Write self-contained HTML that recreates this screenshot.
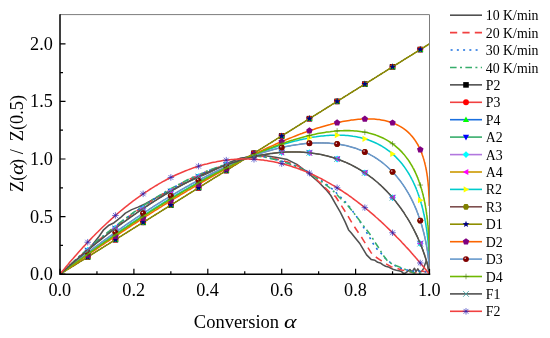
<!DOCTYPE html>
<html><head><meta charset="utf-8"><title>Z master plot</title>
<style>html,body{margin:0;padding:0;background:#fff}svg{display:block}</style></head>
<body>
<svg width="550" height="338" viewBox="0 0 550 338" font-family="'Liberation Serif', serif" fill="#000">
<rect width="550" height="338" fill="#fff"/>
<defs><clipPath id="c"><rect x="60.0" y="15.0" width="369.5" height="259.2"/></clipPath></defs>
<g clip-path="url(#c)" fill="none" stroke-width="1.55" stroke-linejoin="round">
<path d="M60.0 274.2 L70.0 266.0 L80.0 258.0 L87.7 250.4 L94.0 242.8 L99.0 236.5 L103.3 230.2 L109.0 225.2 L114.1 222.7 L120.4 217.7 L125.4 213.1 L131.7 209.6 L138.0 207.1 L145.5 203.8 L150.0 201.3 L156.0 197.9 L166.6 192.5 L177.3 187.2 L187.9 181.9 L198.5 177.4 L209.2 172.6 L219.8 167.3 L230.5 161.9 L241.1 157.9 L244.8 157.6 L254.0 155.0 L263.7 155.6 L275.5 157.2 L287.4 159.6 L296.9 164.4 L306.4 171.5 L309.5 174.2 L319.0 182.5 L326.0 189.6 L330.8 195.5 L335.5 203.8 L340.3 212.1 L345.0 221.6 L348.6 229.9 L351.1 232.7 L355.5 238.3 L360.0 243.8 L363.3 249.4 L366.6 254.9 L371.1 259.4 L375.0 260.3 L377.7 262.3 L380.3 262.9 L383.0 264.9 L385.6 266.3 L388.3 266.9 L391.0 268.3 L393.6 269.6 L396.3 270.3 L398.9 270.7 L401.6 271.6 L403.6 273.6 L405.6 272.9 L408.3 270.9 L409.9 269.6 L411.6 271.6 L413.0 270.5 L414.5 268.3 L416.0 271.6 L417.8 268.9 L419.6 272.0 L421.6 271.6 L423.6 268.3 L426.2 260.9 L427.5 263.6 L428.9 272.9" stroke="#515151"/>
<path d="M60.0 274.2 L78.5 257.4 L97.0 241.5 L115.4 226.6 L133.9 212.9 L152.4 200.4 L170.8 189.2 L189.3 179.4 L207.8 171.1 L226.3 164.3 L244.8 159.0 L254.0 155.6 L263.7 156.4 L275.0 158.6 L287.0 161.8 L297.0 165.5 L308.7 172.5 L320.6 183.3 L330.0 192.5 L335.5 196.5 L340.0 203.5 L346.7 213.9 L353.3 225.0 L362.2 238.3 L371.1 252.7 L375.5 256.8 L380.0 259.8 L385.6 263.6 L391.0 266.7 L396.3 268.0 L401.6 269.9 L406.9 270.9 L412.2 272.6 L418.9 272.9 L422.2 270.9 L426.0 272.0" stroke="#F14040" stroke-dasharray="7.2 5.2"/>
<path d="M60.0 274.2 L78.5 257.3 L97.0 241.3 L115.4 226.3 L133.9 212.6 L152.4 200.1 L170.8 188.9 L189.3 179.2 L207.8 170.9 L226.3 164.2 L244.8 159.0 L254.0 155.8 L263.7 156.7 L275.0 159.2 L287.4 162.8 L297.0 166.3 L308.7 172.0 L320.6 180.0 L330.0 187.0 L335.5 192.0 L339.5 196.0 L347.4 204.0 L356.9 217.0 L364.0 228.0 L371.1 240.0 L375.0 247.0 L380.3 252.3 L386.3 259.6 L393.6 264.9 L400.0 268.0 L408.3 270.3 L415.0 271.5 L422.9 270.9 L427.0 272.0" stroke="#1A6FDF" stroke-dasharray="2 4.3"/>
<path d="M60.0 274.2 L78.5 257.1 L97.0 241.1 L115.4 226.0 L133.9 212.2 L152.4 199.7 L170.8 188.6 L189.3 178.9 L207.8 170.7 L226.3 164.1 L244.8 159.0 L254.0 155.8 L263.7 156.9 L275.0 159.5 L287.4 163.2 L297.0 166.8 L308.7 172.5 L320.6 181.0 L330.0 188.0 L335.5 193.2 L339.5 197.5 L347.4 205.0 L356.9 216.9 L364.0 226.4 L371.1 235.8 L375.0 242.3 L379.0 248.3 L383.0 255.0 L387.0 260.3 L392.3 264.3 L397.6 266.3 L402.9 268.3 L408.3 270.7 L413.6 272.9 L418.9 273.6 L424.0 272.0" stroke="#37AD6B" stroke-dasharray="6.6 3.4 2 3.4"/>
<polyline points="60.7,273.7 62.5,272.6 64.3,271.5 66.0,270.4 67.8,269.3 69.5,268.3 71.3,267.2 73.1,266.1 74.8,265.0 76.6,263.9 78.3,262.8 80.1,261.7 81.9,260.6 83.6,259.5 85.4,258.4 87.1,257.3 88.9,256.2 90.7,255.1 92.4,254.0 94.2,252.9 95.9,251.8 97.7,250.7 99.5,249.6 101.2,248.5 103.0,247.4 104.7,246.3 106.5,245.2 108.3,244.1 110.0,243.0 111.8,241.9 113.5,240.8 115.3,239.7 117.1,238.6 118.8,237.5 120.6,236.4 122.3,235.3 124.1,234.2 125.9,233.1 127.6,232.0 129.4,230.9 131.1,229.8 132.9,228.7 134.7,227.6 136.4,226.5 138.2,225.4 139.9,224.3 141.7,223.3 143.5,222.2 145.2,221.1 147.0,220.0 148.8,218.9 150.5,217.8 152.3,216.7 154.0,215.6 155.8,214.5 157.6,213.4 159.3,212.3 161.1,211.2 162.8,210.1 164.6,209.0 166.4,207.9 168.1,206.8 169.9,205.7 171.6,204.6 173.4,203.5 175.2,202.4 176.9,201.3 178.7,200.2 180.4,199.1 182.2,198.0 184.0,196.9 185.7,195.8 187.5,194.7 189.2,193.6 191.0,192.5 192.8,191.4 194.5,190.3 196.3,189.2 198.0,188.1 199.8,187.0 201.6,185.9 203.3,184.8 205.1,183.7 206.8,182.6 208.6,181.5 210.4,180.4 212.1,179.3 213.9,178.2 215.6,177.2 217.4,176.1 219.2,175.0 220.9,173.9 222.7,172.8 224.4,171.7 226.2,170.6 228.0,169.5 229.7,168.4 231.5,167.3 233.2,166.2 235.0,165.1 236.8,164.0 238.5,162.9 240.3,161.8 242.0,160.7 243.8,159.6 245.6,158.5 247.3,157.4 249.1,156.3 250.8,155.2 252.6,154.1 254.4,153.0 256.1,151.9 257.9,150.8 259.6,149.7 261.4,148.6 263.2,147.5 264.9,146.4 266.7,145.3 268.4,144.2 270.2,143.1 272.0,142.0 273.7,140.9 275.5,139.8 277.2,138.7 279.0,137.6 280.8,136.5 282.5,135.4 284.3,134.3 286.0,133.2 287.8,132.2 289.6,131.1 291.3,130.0 293.1,128.9 294.8,127.8 296.6,126.7 298.4,125.6 300.1,124.5 301.9,123.4 303.7,122.3 305.4,121.2 307.2,120.1 308.9,119.0 310.7,117.9 312.5,116.8 314.2,115.7 316.0,114.6 317.7,113.5 319.5,112.4 321.3,111.3 323.0,110.2 324.8,109.1 326.5,108.0 328.3,106.9 330.1,105.8 331.8,104.7 333.6,103.6 335.3,102.5 337.1,101.4 338.9,100.3 340.6,99.2 342.4,98.1 344.1,97.0 345.9,95.9 347.7,94.8 349.4,93.7 351.2,92.6 352.9,91.5 354.7,90.4 356.5,89.3 358.2,88.2 360.0,87.1 361.7,86.1 363.5,85.0 365.3,83.9 367.0,82.8 368.8,81.7 370.5,80.6 372.3,79.5 374.1,78.4 375.8,77.3 377.6,76.2 379.3,75.1 381.1,74.0 382.9,72.9 384.6,71.8 386.4,70.7 388.1,69.6 389.9,68.5 391.7,67.4 393.4,66.3 395.2,65.2 396.9,64.1 398.7,63.0 400.5,61.9 402.2,60.8 404.0,59.7 405.7,58.6 407.5,57.5 409.3,56.4 411.0,55.3 411.0,55.3 411.1,55.2 411.3,55.2 411.4,55.1 411.5,55.0 411.6,54.9 411.8,54.9 411.9,54.8 412.0,54.7 412.1,54.6 412.3,54.6 412.4,54.5 412.5,54.4 412.6,54.3 412.7,54.2 412.9,54.2 413.0,54.1 413.1,54.0 413.2,53.9 413.4,53.9 413.5,53.8 413.6,53.7 413.7,53.6 413.8,53.6 414.0,53.5 414.1,53.4 414.2,53.3 414.3,53.3 414.5,53.2 414.6,53.1 414.7,53.0 414.8,52.9 415.0,52.9 415.1,52.8 415.2,52.7 415.3,52.6 415.4,52.6 415.6,52.5 415.7,52.4 415.8,52.3 415.9,52.3 416.1,52.2 416.2,52.1 416.3,52.0 416.4,52.0 416.5,51.9 416.7,51.8 416.8,51.7 416.9,51.6 417.0,51.6 417.2,51.5 417.3,51.4 417.4,51.3 417.5,51.3 417.7,51.2 417.8,51.1 417.9,51.0 418.0,51.0 418.1,50.9 418.3,50.8 418.4,50.7 418.5,50.7 418.6,50.6 418.8,50.5 418.9,50.4 419.0,50.3 419.1,50.3 419.2,50.2 419.4,50.1 419.5,50.0 419.6,50.0 419.7,49.9 419.9,49.8 420.0,49.7 420.1,49.7 420.2,49.6 420.4,49.5 420.5,49.4 420.6,49.3 420.7,49.3 420.8,49.2 421.0,49.1 421.1,49.0 421.2,49.0 421.3,48.9 421.5,48.8 421.6,48.7 421.7,48.7 421.8,48.6 422.0,48.5 422.1,48.4 422.2,48.4 422.3,48.3 422.4,48.2 422.6,48.1 422.7,48.0 422.8,48.0 422.9,47.9 423.1,47.8 423.2,47.7 423.3,47.7 423.4,47.6 423.5,47.5 423.7,47.4 423.8,47.4 423.9,47.3 424.0,47.2 424.2,47.1 424.3,47.1 424.4,47.0 424.5,46.9 424.7,46.8 424.8,46.7 424.9,46.7 425.0,46.6 425.1,46.5 425.3,46.4 425.4,46.4 425.5,46.3 425.6,46.2 425.8,46.1 425.9,46.1 426.0,46.0 426.1,45.9 426.2,45.8 426.4,45.8 426.5,45.7 426.6,45.6 426.7,45.5 426.9,45.4 427.0,45.4 427.1,45.3 427.2,45.2 427.4,45.1 427.5,45.1 427.6,45.0 427.7,44.9 427.8,44.8 428.0,44.8 428.1,44.7 428.2,44.6 428.3,44.5 428.5,44.5 428.6,44.4 428.7,44.3 428.8,44.2 428.9,44.1 429.1,44.1 429.2,44.0 429.3,43.9" stroke="#000000" stroke-width="1"/>
<g stroke="none"><rect x="84.92" y="254.13" width="5.58" height="5.58" fill="#000000"/><rect x="112.63" y="236.85" width="5.58" height="5.58" fill="#000000"/><rect x="140.35" y="219.57" width="5.58" height="5.58" fill="#000000"/><rect x="168.06" y="202.29" width="5.58" height="5.58" fill="#000000"/><rect x="195.77" y="185.01" width="5.58" height="5.58" fill="#000000"/><rect x="223.48" y="167.73" width="5.58" height="5.58" fill="#000000"/><rect x="251.20" y="150.45" width="5.58" height="5.58" fill="#000000"/><rect x="278.91" y="133.17" width="5.58" height="5.58" fill="#000000"/><rect x="306.62" y="115.89" width="5.58" height="5.58" fill="#000000"/><rect x="334.33" y="98.61" width="5.58" height="5.58" fill="#000000"/><rect x="362.05" y="81.33" width="5.58" height="5.58" fill="#000000"/><rect x="389.76" y="64.05" width="5.58" height="5.58" fill="#000000"/><rect x="417.47" y="46.77" width="5.58" height="5.58" fill="#000000"/></g>
<polyline points="60.7,273.7 62.5,272.6 64.3,271.5 66.0,270.4 67.8,269.3 69.5,268.3 71.3,267.2 73.1,266.1 74.8,265.0 76.6,263.9 78.3,262.8 80.1,261.7 81.9,260.6 83.6,259.5 85.4,258.4 87.1,257.3 88.9,256.2 90.7,255.1 92.4,254.0 94.2,252.9 95.9,251.8 97.7,250.7 99.5,249.6 101.2,248.5 103.0,247.4 104.7,246.3 106.5,245.2 108.3,244.1 110.0,243.0 111.8,241.9 113.5,240.8 115.3,239.7 117.1,238.6 118.8,237.5 120.6,236.4 122.3,235.3 124.1,234.2 125.9,233.1 127.6,232.0 129.4,230.9 131.1,229.8 132.9,228.7 134.7,227.6 136.4,226.5 138.2,225.4 139.9,224.3 141.7,223.3 143.5,222.2 145.2,221.1 147.0,220.0 148.8,218.9 150.5,217.8 152.3,216.7 154.0,215.6 155.8,214.5 157.6,213.4 159.3,212.3 161.1,211.2 162.8,210.1 164.6,209.0 166.4,207.9 168.1,206.8 169.9,205.7 171.6,204.6 173.4,203.5 175.2,202.4 176.9,201.3 178.7,200.2 180.4,199.1 182.2,198.0 184.0,196.9 185.7,195.8 187.5,194.7 189.2,193.6 191.0,192.5 192.8,191.4 194.5,190.3 196.3,189.2 198.0,188.1 199.8,187.0 201.6,185.9 203.3,184.8 205.1,183.7 206.8,182.6 208.6,181.5 210.4,180.4 212.1,179.3 213.9,178.2 215.6,177.2 217.4,176.1 219.2,175.0 220.9,173.9 222.7,172.8 224.4,171.7 226.2,170.6 228.0,169.5 229.7,168.4 231.5,167.3 233.2,166.2 235.0,165.1 236.8,164.0 238.5,162.9 240.3,161.8 242.0,160.7 243.8,159.6 245.6,158.5 247.3,157.4 249.1,156.3 250.8,155.2 252.6,154.1 254.4,153.0 256.1,151.9 257.9,150.8 259.6,149.7 261.4,148.6 263.2,147.5 264.9,146.4 266.7,145.3 268.4,144.2 270.2,143.1 272.0,142.0 273.7,140.9 275.5,139.8 277.2,138.7 279.0,137.6 280.8,136.5 282.5,135.4 284.3,134.3 286.0,133.2 287.8,132.2 289.6,131.1 291.3,130.0 293.1,128.9 294.8,127.8 296.6,126.7 298.4,125.6 300.1,124.5 301.9,123.4 303.7,122.3 305.4,121.2 307.2,120.1 308.9,119.0 310.7,117.9 312.5,116.8 314.2,115.7 316.0,114.6 317.7,113.5 319.5,112.4 321.3,111.3 323.0,110.2 324.8,109.1 326.5,108.0 328.3,106.9 330.1,105.8 331.8,104.7 333.6,103.6 335.3,102.5 337.1,101.4 338.9,100.3 340.6,99.2 342.4,98.1 344.1,97.0 345.9,95.9 347.7,94.8 349.4,93.7 351.2,92.6 352.9,91.5 354.7,90.4 356.5,89.3 358.2,88.2 360.0,87.1 361.7,86.1 363.5,85.0 365.3,83.9 367.0,82.8 368.8,81.7 370.5,80.6 372.3,79.5 374.1,78.4 375.8,77.3 377.6,76.2 379.3,75.1 381.1,74.0 382.9,72.9 384.6,71.8 386.4,70.7 388.1,69.6 389.9,68.5 391.7,67.4 393.4,66.3 395.2,65.2 396.9,64.1 398.7,63.0 400.5,61.9 402.2,60.8 404.0,59.7 405.7,58.6 407.5,57.5 409.3,56.4 411.0,55.3 411.0,55.3 411.1,55.2 411.3,55.2 411.4,55.1 411.5,55.0 411.6,54.9 411.8,54.9 411.9,54.8 412.0,54.7 412.1,54.6 412.3,54.6 412.4,54.5 412.5,54.4 412.6,54.3 412.7,54.2 412.9,54.2 413.0,54.1 413.1,54.0 413.2,53.9 413.4,53.9 413.5,53.8 413.6,53.7 413.7,53.6 413.8,53.6 414.0,53.5 414.1,53.4 414.2,53.3 414.3,53.3 414.5,53.2 414.6,53.1 414.7,53.0 414.8,52.9 415.0,52.9 415.1,52.8 415.2,52.7 415.3,52.6 415.4,52.6 415.6,52.5 415.7,52.4 415.8,52.3 415.9,52.3 416.1,52.2 416.2,52.1 416.3,52.0 416.4,52.0 416.5,51.9 416.7,51.8 416.8,51.7 416.9,51.6 417.0,51.6 417.2,51.5 417.3,51.4 417.4,51.3 417.5,51.3 417.7,51.2 417.8,51.1 417.9,51.0 418.0,51.0 418.1,50.9 418.3,50.8 418.4,50.7 418.5,50.7 418.6,50.6 418.8,50.5 418.9,50.4 419.0,50.3 419.1,50.3 419.2,50.2 419.4,50.1 419.5,50.0 419.6,50.0 419.7,49.9 419.9,49.8 420.0,49.7 420.1,49.7 420.2,49.6 420.4,49.5 420.5,49.4 420.6,49.3 420.7,49.3 420.8,49.2 421.0,49.1 421.1,49.0 421.2,49.0 421.3,48.9 421.5,48.8 421.6,48.7 421.7,48.7 421.8,48.6 422.0,48.5 422.1,48.4 422.2,48.4 422.3,48.3 422.4,48.2 422.6,48.1 422.7,48.0 422.8,48.0 422.9,47.9 423.1,47.8 423.2,47.7 423.3,47.7 423.4,47.6 423.5,47.5 423.7,47.4 423.8,47.4 423.9,47.3 424.0,47.2 424.2,47.1 424.3,47.1 424.4,47.0 424.5,46.9 424.7,46.8 424.8,46.7 424.9,46.7 425.0,46.6 425.1,46.5 425.3,46.4 425.4,46.4 425.5,46.3 425.6,46.2 425.8,46.1 425.9,46.1 426.0,46.0 426.1,45.9 426.2,45.8 426.4,45.8 426.5,45.7 426.6,45.6 426.7,45.5 426.9,45.4 427.0,45.4 427.1,45.3 427.2,45.2 427.4,45.1 427.5,45.1 427.6,45.0 427.7,44.9 427.8,44.8 428.0,44.8 428.1,44.7 428.2,44.6 428.3,44.5 428.5,44.5 428.6,44.4 428.7,44.3 428.8,44.2 428.9,44.1 429.1,44.1 429.2,44.0 429.3,43.9" stroke="#F14040" stroke-width="1"/>
<g stroke="none"><circle cx="87.71" cy="256.92" r="2.94" fill="#FF0000"/><circle cx="115.42" cy="239.64" r="2.94" fill="#FF0000"/><circle cx="143.14" cy="222.36" r="2.94" fill="#FF0000"/><circle cx="170.85" cy="205.08" r="2.94" fill="#FF0000"/><circle cx="198.56" cy="187.80" r="2.94" fill="#FF0000"/><circle cx="226.27" cy="170.52" r="2.94" fill="#FF0000"/><circle cx="253.99" cy="153.24" r="2.94" fill="#FF0000"/><circle cx="281.70" cy="135.96" r="2.94" fill="#FF0000"/><circle cx="309.41" cy="118.68" r="2.94" fill="#FF0000"/><circle cx="337.12" cy="101.40" r="2.94" fill="#FF0000"/><circle cx="364.84" cy="84.12" r="2.94" fill="#FF0000"/><circle cx="392.55" cy="66.84" r="2.94" fill="#FF0000"/><circle cx="420.26" cy="49.56" r="2.94" fill="#FF0000"/></g>
<polyline points="60.7,273.7 62.5,272.6 64.3,271.5 66.0,270.4 67.8,269.3 69.5,268.3 71.3,267.2 73.1,266.1 74.8,265.0 76.6,263.9 78.3,262.8 80.1,261.7 81.9,260.6 83.6,259.5 85.4,258.4 87.1,257.3 88.9,256.2 90.7,255.1 92.4,254.0 94.2,252.9 95.9,251.8 97.7,250.7 99.5,249.6 101.2,248.5 103.0,247.4 104.7,246.3 106.5,245.2 108.3,244.1 110.0,243.0 111.8,241.9 113.5,240.8 115.3,239.7 117.1,238.6 118.8,237.5 120.6,236.4 122.3,235.3 124.1,234.2 125.9,233.1 127.6,232.0 129.4,230.9 131.1,229.8 132.9,228.7 134.7,227.6 136.4,226.5 138.2,225.4 139.9,224.3 141.7,223.3 143.5,222.2 145.2,221.1 147.0,220.0 148.8,218.9 150.5,217.8 152.3,216.7 154.0,215.6 155.8,214.5 157.6,213.4 159.3,212.3 161.1,211.2 162.8,210.1 164.6,209.0 166.4,207.9 168.1,206.8 169.9,205.7 171.6,204.6 173.4,203.5 175.2,202.4 176.9,201.3 178.7,200.2 180.4,199.1 182.2,198.0 184.0,196.9 185.7,195.8 187.5,194.7 189.2,193.6 191.0,192.5 192.8,191.4 194.5,190.3 196.3,189.2 198.0,188.1 199.8,187.0 201.6,185.9 203.3,184.8 205.1,183.7 206.8,182.6 208.6,181.5 210.4,180.4 212.1,179.3 213.9,178.2 215.6,177.2 217.4,176.1 219.2,175.0 220.9,173.9 222.7,172.8 224.4,171.7 226.2,170.6 228.0,169.5 229.7,168.4 231.5,167.3 233.2,166.2 235.0,165.1 236.8,164.0 238.5,162.9 240.3,161.8 242.0,160.7 243.8,159.6 245.6,158.5 247.3,157.4 249.1,156.3 250.8,155.2 252.6,154.1 254.4,153.0 256.1,151.9 257.9,150.8 259.6,149.7 261.4,148.6 263.2,147.5 264.9,146.4 266.7,145.3 268.4,144.2 270.2,143.1 272.0,142.0 273.7,140.9 275.5,139.8 277.2,138.7 279.0,137.6 280.8,136.5 282.5,135.4 284.3,134.3 286.0,133.2 287.8,132.2 289.6,131.1 291.3,130.0 293.1,128.9 294.8,127.8 296.6,126.7 298.4,125.6 300.1,124.5 301.9,123.4 303.7,122.3 305.4,121.2 307.2,120.1 308.9,119.0 310.7,117.9 312.5,116.8 314.2,115.7 316.0,114.6 317.7,113.5 319.5,112.4 321.3,111.3 323.0,110.2 324.8,109.1 326.5,108.0 328.3,106.9 330.1,105.8 331.8,104.7 333.6,103.6 335.3,102.5 337.1,101.4 338.9,100.3 340.6,99.2 342.4,98.1 344.1,97.0 345.9,95.9 347.7,94.8 349.4,93.7 351.2,92.6 352.9,91.5 354.7,90.4 356.5,89.3 358.2,88.2 360.0,87.1 361.7,86.1 363.5,85.0 365.3,83.9 367.0,82.8 368.8,81.7 370.5,80.6 372.3,79.5 374.1,78.4 375.8,77.3 377.6,76.2 379.3,75.1 381.1,74.0 382.9,72.9 384.6,71.8 386.4,70.7 388.1,69.6 389.9,68.5 391.7,67.4 393.4,66.3 395.2,65.2 396.9,64.1 398.7,63.0 400.5,61.9 402.2,60.8 404.0,59.7 405.7,58.6 407.5,57.5 409.3,56.4 411.0,55.3 411.0,55.3 411.1,55.2 411.3,55.2 411.4,55.1 411.5,55.0 411.6,54.9 411.8,54.9 411.9,54.8 412.0,54.7 412.1,54.6 412.3,54.6 412.4,54.5 412.5,54.4 412.6,54.3 412.7,54.2 412.9,54.2 413.0,54.1 413.1,54.0 413.2,53.9 413.4,53.9 413.5,53.8 413.6,53.7 413.7,53.6 413.8,53.6 414.0,53.5 414.1,53.4 414.2,53.3 414.3,53.3 414.5,53.2 414.6,53.1 414.7,53.0 414.8,52.9 415.0,52.9 415.1,52.8 415.2,52.7 415.3,52.6 415.4,52.6 415.6,52.5 415.7,52.4 415.8,52.3 415.9,52.3 416.1,52.2 416.2,52.1 416.3,52.0 416.4,52.0 416.5,51.9 416.7,51.8 416.8,51.7 416.9,51.6 417.0,51.6 417.2,51.5 417.3,51.4 417.4,51.3 417.5,51.3 417.7,51.2 417.8,51.1 417.9,51.0 418.0,51.0 418.1,50.9 418.3,50.8 418.4,50.7 418.5,50.7 418.6,50.6 418.8,50.5 418.9,50.4 419.0,50.3 419.1,50.3 419.2,50.2 419.4,50.1 419.5,50.0 419.6,50.0 419.7,49.9 419.9,49.8 420.0,49.7 420.1,49.7 420.2,49.6 420.4,49.5 420.5,49.4 420.6,49.3 420.7,49.3 420.8,49.2 421.0,49.1 421.1,49.0 421.2,49.0 421.3,48.9 421.5,48.8 421.6,48.7 421.7,48.7 421.8,48.6 422.0,48.5 422.1,48.4 422.2,48.4 422.3,48.3 422.4,48.2 422.6,48.1 422.7,48.0 422.8,48.0 422.9,47.9 423.1,47.8 423.2,47.7 423.3,47.7 423.4,47.6 423.5,47.5 423.7,47.4 423.8,47.4 423.9,47.3 424.0,47.2 424.2,47.1 424.3,47.1 424.4,47.0 424.5,46.9 424.7,46.8 424.8,46.7 424.9,46.7 425.0,46.6 425.1,46.5 425.3,46.4 425.4,46.4 425.5,46.3 425.6,46.2 425.8,46.1 425.9,46.1 426.0,46.0 426.1,45.9 426.2,45.8 426.4,45.8 426.5,45.7 426.6,45.6 426.7,45.5 426.9,45.4 427.0,45.4 427.1,45.3 427.2,45.2 427.4,45.1 427.5,45.1 427.6,45.0 427.7,44.9 427.8,44.8 428.0,44.8 428.1,44.7 428.2,44.6 428.3,44.5 428.5,44.5 428.6,44.4 428.7,44.3 428.8,44.2 428.9,44.1 429.1,44.1 429.2,44.0 429.3,43.9" stroke="#1A6FDF" stroke-width="1"/>
<g stroke="none"><polygon points="87.71,253.66 90.81,259.24 84.61,259.24" fill="#00FF00"/><polygon points="115.42,236.38 118.52,241.96 112.33,241.96" fill="#00FF00"/><polygon points="143.14,219.10 146.24,224.68 140.04,224.68" fill="#00FF00"/><polygon points="170.85,201.82 173.95,207.40 167.75,207.40" fill="#00FF00"/><polygon points="198.56,184.54 201.66,190.12 195.46,190.12" fill="#00FF00"/><polygon points="226.27,167.26 229.37,172.84 223.17,172.84" fill="#00FF00"/><polygon points="253.99,149.98 257.09,155.56 250.89,155.56" fill="#00FF00"/><polygon points="281.70,132.70 284.80,138.28 278.60,138.28" fill="#00FF00"/><polygon points="309.41,115.43 312.51,121.01 306.31,121.01" fill="#00FF00"/><polygon points="337.12,98.14 340.23,103.72 334.02,103.72" fill="#00FF00"/><polygon points="364.84,80.87 367.94,86.45 361.74,86.45" fill="#00FF00"/><polygon points="392.55,63.59 395.65,69.17 389.45,69.17" fill="#00FF00"/><polygon points="420.26,46.30 423.36,51.89 417.16,51.89" fill="#00FF00"/></g>
<polyline points="60.7,273.5 62.5,272.0 64.3,270.4 66.0,268.8 67.8,267.3 69.5,265.7 71.3,264.2 73.1,262.7 74.8,261.1 76.6,259.6 78.3,258.1 80.1,256.6 81.9,255.1 83.6,253.6 85.4,252.2 87.1,250.7 88.9,249.2 90.7,247.8 92.4,246.4 94.2,244.9 95.9,243.5 97.7,242.1 99.5,240.7 101.2,239.3 103.0,237.9 104.7,236.5 106.5,235.1 108.3,233.7 110.0,232.4 111.8,231.0 113.5,229.7 115.3,228.4 117.1,227.0 118.8,225.7 120.6,224.4 122.3,223.1 124.1,221.9 125.9,220.6 127.6,219.3 129.4,218.0 131.1,216.8 132.9,215.6 134.7,214.3 136.4,213.1 138.2,211.9 139.9,210.7 141.7,209.5 143.5,208.3 145.2,207.1 147.0,206.0 148.8,204.8 150.5,203.7 152.3,202.5 154.0,201.4 155.8,200.3 157.6,199.2 159.3,198.1 161.1,197.0 162.8,196.0 164.6,194.9 166.4,193.8 168.1,192.8 169.9,191.8 171.6,190.8 173.4,189.7 175.2,188.8 176.9,187.8 178.7,186.8 180.4,185.8 182.2,184.9 184.0,183.9 185.7,183.0 187.5,182.1 189.2,181.2 191.0,180.3 192.8,179.4 194.5,178.5 196.3,177.7 198.0,176.8 199.8,176.0 201.6,175.1 203.3,174.3 205.1,173.5 206.8,172.7 208.6,172.0 210.4,171.2 212.1,170.5 213.9,169.7 215.6,169.0 217.4,168.3 219.2,167.6 220.9,166.9 222.7,166.2 224.4,165.6 226.2,164.9 228.0,164.3 229.7,163.7 231.5,163.1 233.2,162.5 235.0,161.9 236.8,161.4 238.5,160.8 240.3,160.3 242.0,159.8 243.8,159.3 245.6,158.8 247.3,158.3 249.1,157.8 250.8,157.4 252.6,157.0 254.4,156.6 256.1,156.2 257.9,155.8 259.6,155.4 261.4,155.1 263.2,154.8 264.9,154.5 266.7,154.2 268.4,153.9 270.2,153.6 272.0,153.4 273.7,153.2 275.5,153.0 277.2,152.8 279.0,152.6 280.8,152.4 282.5,152.3 284.3,152.2 286.0,152.1 287.8,152.0 289.6,152.0 291.3,151.9 293.1,151.9 294.8,151.9 296.6,151.9 298.4,152.0 300.1,152.1 301.9,152.2 303.7,152.3 305.4,152.4 307.2,152.6 308.9,152.7 310.7,152.9 312.5,153.2 314.2,153.4 316.0,153.7 317.7,154.0 319.5,154.3 321.3,154.6 323.0,155.0 324.8,155.4 326.5,155.8 328.3,156.3 330.1,156.8 331.8,157.3 333.6,157.8 335.3,158.4 337.1,159.0 338.9,159.6 340.6,160.3 342.4,161.0 344.1,161.7 345.9,162.4 347.7,163.2 349.4,164.0 351.2,164.9 352.9,165.8 354.7,166.7 356.5,167.7 358.2,168.7 360.0,169.7 361.7,170.8 363.5,171.9 365.3,173.1 367.0,174.3 368.8,175.6 370.5,176.9 372.3,178.2 374.1,179.6 375.8,181.0 377.6,182.5 379.3,184.1 381.1,185.7 382.9,187.4 384.6,189.1 386.4,190.9 388.1,192.7 389.9,194.6 391.7,196.6 393.4,198.7 395.2,200.8 396.9,203.1 398.7,205.4 400.5,207.8 402.2,210.3 404.0,212.8 405.7,215.6 407.5,218.4 409.3,221.3 411.0,224.4 411.0,224.4 411.1,224.6 411.3,224.9 411.4,225.1 411.5,225.3 411.6,225.5 411.8,225.7 411.9,226.0 412.0,226.2 412.1,226.4 412.3,226.7 412.4,226.9 412.5,227.1 412.6,227.3 412.7,227.6 412.9,227.8 413.0,228.0 413.1,228.3 413.2,228.5 413.4,228.7 413.5,229.0 413.6,229.2 413.7,229.4 413.8,229.7 414.0,229.9 414.1,230.2 414.2,230.4 414.3,230.6 414.5,230.9 414.6,231.1 414.7,231.4 414.8,231.6 415.0,231.9 415.1,232.1 415.2,232.4 415.3,232.6 415.4,232.9 415.6,233.1 415.7,233.4 415.8,233.6 415.9,233.9 416.1,234.1 416.2,234.4 416.3,234.6 416.4,234.9 416.5,235.2 416.7,235.4 416.8,235.7 416.9,235.9 417.0,236.2 417.2,236.5 417.3,236.7 417.4,237.0 417.5,237.3 417.7,237.5 417.8,237.8 417.9,238.1 418.0,238.4 418.1,238.6 418.3,238.9 418.4,239.2 418.5,239.5 418.6,239.7 418.8,240.0 418.9,240.3 419.0,240.6 419.1,240.9 419.2,241.1 419.4,241.4 419.5,241.7 419.6,242.0 419.7,242.3 419.9,242.6 420.0,242.9 420.1,243.2 420.2,243.5 420.4,243.8 420.5,244.1 420.6,244.4 420.7,244.7 420.8,245.0 421.0,245.3 421.1,245.6 421.2,245.9 421.3,246.2 421.5,246.5 421.6,246.8 421.7,247.1 421.8,247.5 422.0,247.8 422.1,248.1 422.2,248.4 422.3,248.7 422.4,249.1 422.6,249.4 422.7,249.7 422.8,250.1 422.9,250.4 423.1,250.7 423.2,251.1 423.3,251.4 423.4,251.7 423.5,252.1 423.7,252.4 423.8,252.8 423.9,253.1 424.0,253.5 424.2,253.8 424.3,254.2 424.4,254.6 424.5,254.9 424.7,255.3 424.8,255.7 424.9,256.0 425.0,256.4 425.1,256.8 425.3,257.2 425.4,257.6 425.5,257.9 425.6,258.3 425.8,258.7 425.9,259.1 426.0,259.5 426.1,259.9 426.2,260.3 426.4,260.8 426.5,261.2 426.6,261.6 426.7,262.0 426.9,262.5 427.0,262.9 427.1,263.3 427.2,263.8 427.4,264.3 427.5,264.7 427.6,265.2 427.7,265.7 427.8,266.1 428.0,266.6 428.1,267.1 428.2,267.6 428.3,268.2 428.5,268.7 428.6,269.2 428.7,269.8 428.8,270.4 428.9,271.0 429.1,271.6 429.2,272.2 429.3,272.9" stroke="#37AD6B" stroke-width="1"/>
<g stroke="none"><polygon points="87.71,253.48 90.81,247.90 84.61,247.90" fill="#0000FF"/><polygon points="115.42,231.54 118.52,225.96 112.33,225.96" fill="#0000FF"/><polygon points="143.14,211.79 146.24,206.21 140.04,206.21" fill="#0000FF"/><polygon points="170.85,194.46 173.95,188.88 167.75,188.88" fill="#0000FF"/><polygon points="198.56,179.81 201.66,174.23 195.46,174.23" fill="#0000FF"/><polygon points="226.27,168.16 229.37,162.58 223.17,162.58" fill="#0000FF"/><polygon points="253.99,159.92 257.09,154.34 250.89,154.34" fill="#0000FF"/><polygon points="281.70,155.63 284.80,150.05 278.60,150.05" fill="#0000FF"/><polygon points="309.41,156.04 312.51,150.46 306.31,150.46" fill="#0000FF"/><polygon points="337.12,162.25 340.23,156.68 334.02,156.68" fill="#0000FF"/><polygon points="364.84,176.07 367.94,170.49 361.74,170.49" fill="#0000FF"/><polygon points="392.55,200.92 395.65,195.34 389.45,195.34" fill="#0000FF"/><polygon points="420.26,246.80 423.36,241.22 417.16,241.22" fill="#0000FF"/></g>
<polyline points="60.7,273.5 62.5,272.0 64.3,270.4 66.0,268.8 67.8,267.3 69.5,265.7 71.3,264.2 73.1,262.7 74.8,261.1 76.6,259.6 78.3,258.1 80.1,256.6 81.9,255.1 83.6,253.6 85.4,252.2 87.1,250.7 88.9,249.2 90.7,247.8 92.4,246.4 94.2,244.9 95.9,243.5 97.7,242.1 99.5,240.7 101.2,239.3 103.0,237.9 104.7,236.5 106.5,235.1 108.3,233.7 110.0,232.4 111.8,231.0 113.5,229.7 115.3,228.4 117.1,227.0 118.8,225.7 120.6,224.4 122.3,223.1 124.1,221.9 125.9,220.6 127.6,219.3 129.4,218.0 131.1,216.8 132.9,215.6 134.7,214.3 136.4,213.1 138.2,211.9 139.9,210.7 141.7,209.5 143.5,208.3 145.2,207.1 147.0,206.0 148.8,204.8 150.5,203.7 152.3,202.5 154.0,201.4 155.8,200.3 157.6,199.2 159.3,198.1 161.1,197.0 162.8,196.0 164.6,194.9 166.4,193.8 168.1,192.8 169.9,191.8 171.6,190.8 173.4,189.7 175.2,188.8 176.9,187.8 178.7,186.8 180.4,185.8 182.2,184.9 184.0,183.9 185.7,183.0 187.5,182.1 189.2,181.2 191.0,180.3 192.8,179.4 194.5,178.5 196.3,177.7 198.0,176.8 199.8,176.0 201.6,175.1 203.3,174.3 205.1,173.5 206.8,172.7 208.6,172.0 210.4,171.2 212.1,170.5 213.9,169.7 215.6,169.0 217.4,168.3 219.2,167.6 220.9,166.9 222.7,166.2 224.4,165.6 226.2,164.9 228.0,164.3 229.7,163.7 231.5,163.1 233.2,162.5 235.0,161.9 236.8,161.4 238.5,160.8 240.3,160.3 242.0,159.8 243.8,159.3 245.6,158.8 247.3,158.3 249.1,157.8 250.8,157.4 252.6,157.0 254.4,156.6 256.1,156.2 257.9,155.8 259.6,155.4 261.4,155.1 263.2,154.8 264.9,154.5 266.7,154.2 268.4,153.9 270.2,153.6 272.0,153.4 273.7,153.2 275.5,153.0 277.2,152.8 279.0,152.6 280.8,152.4 282.5,152.3 284.3,152.2 286.0,152.1 287.8,152.0 289.6,152.0 291.3,151.9 293.1,151.9 294.8,151.9 296.6,151.9 298.4,152.0 300.1,152.1 301.9,152.2 303.7,152.3 305.4,152.4 307.2,152.6 308.9,152.7 310.7,152.9 312.5,153.2 314.2,153.4 316.0,153.7 317.7,154.0 319.5,154.3 321.3,154.6 323.0,155.0 324.8,155.4 326.5,155.8 328.3,156.3 330.1,156.8 331.8,157.3 333.6,157.8 335.3,158.4 337.1,159.0 338.9,159.6 340.6,160.3 342.4,161.0 344.1,161.7 345.9,162.4 347.7,163.2 349.4,164.0 351.2,164.9 352.9,165.8 354.7,166.7 356.5,167.7 358.2,168.7 360.0,169.7 361.7,170.8 363.5,171.9 365.3,173.1 367.0,174.3 368.8,175.6 370.5,176.9 372.3,178.2 374.1,179.6 375.8,181.0 377.6,182.5 379.3,184.1 381.1,185.7 382.9,187.4 384.6,189.1 386.4,190.9 388.1,192.7 389.9,194.6 391.7,196.6 393.4,198.7 395.2,200.8 396.9,203.1 398.7,205.4 400.5,207.8 402.2,210.3 404.0,212.8 405.7,215.6 407.5,218.4 409.3,221.3 411.0,224.4 411.0,224.4 411.1,224.6 411.3,224.9 411.4,225.1 411.5,225.3 411.6,225.5 411.8,225.7 411.9,226.0 412.0,226.2 412.1,226.4 412.3,226.7 412.4,226.9 412.5,227.1 412.6,227.3 412.7,227.6 412.9,227.8 413.0,228.0 413.1,228.3 413.2,228.5 413.4,228.7 413.5,229.0 413.6,229.2 413.7,229.4 413.8,229.7 414.0,229.9 414.1,230.2 414.2,230.4 414.3,230.6 414.5,230.9 414.6,231.1 414.7,231.4 414.8,231.6 415.0,231.9 415.1,232.1 415.2,232.4 415.3,232.6 415.4,232.9 415.6,233.1 415.7,233.4 415.8,233.6 415.9,233.9 416.1,234.1 416.2,234.4 416.3,234.6 416.4,234.9 416.5,235.2 416.7,235.4 416.8,235.7 416.9,235.9 417.0,236.2 417.2,236.5 417.3,236.7 417.4,237.0 417.5,237.3 417.7,237.5 417.8,237.8 417.9,238.1 418.0,238.4 418.1,238.6 418.3,238.9 418.4,239.2 418.5,239.5 418.6,239.7 418.8,240.0 418.9,240.3 419.0,240.6 419.1,240.9 419.2,241.1 419.4,241.4 419.5,241.7 419.6,242.0 419.7,242.3 419.9,242.6 420.0,242.9 420.1,243.2 420.2,243.5 420.4,243.8 420.5,244.1 420.6,244.4 420.7,244.7 420.8,245.0 421.0,245.3 421.1,245.6 421.2,245.9 421.3,246.2 421.5,246.5 421.6,246.8 421.7,247.1 421.8,247.5 422.0,247.8 422.1,248.1 422.2,248.4 422.3,248.7 422.4,249.1 422.6,249.4 422.7,249.7 422.8,250.1 422.9,250.4 423.1,250.7 423.2,251.1 423.3,251.4 423.4,251.7 423.5,252.1 423.7,252.4 423.8,252.8 423.9,253.1 424.0,253.5 424.2,253.8 424.3,254.2 424.4,254.6 424.5,254.9 424.7,255.3 424.8,255.7 424.9,256.0 425.0,256.4 425.1,256.8 425.3,257.2 425.4,257.6 425.5,257.9 425.6,258.3 425.8,258.7 425.9,259.1 426.0,259.5 426.1,259.9 426.2,260.3 426.4,260.8 426.5,261.2 426.6,261.6 426.7,262.0 426.9,262.5 427.0,262.9 427.1,263.3 427.2,263.8 427.4,264.3 427.5,264.7 427.6,265.2 427.7,265.7 427.8,266.1 428.0,266.6 428.1,267.1 428.2,267.6 428.3,268.2 428.5,268.7 428.6,269.2 428.7,269.8 428.8,270.4 428.9,271.0 429.1,271.6 429.2,272.2 429.3,272.9" stroke="#B177DE" stroke-width="1"/>
<g stroke="none"><polygon points="87.71,246.82 91.12,250.23 87.71,253.64 84.30,250.23" fill="#00FFFF"/><polygon points="115.42,224.87 118.83,228.28 115.42,231.69 112.02,228.28" fill="#00FFFF"/><polygon points="143.14,205.13 146.55,208.54 143.14,211.95 139.73,208.54" fill="#00FFFF"/><polygon points="170.85,187.80 174.26,191.21 170.85,194.62 167.44,191.21" fill="#00FFFF"/><polygon points="198.56,173.15 201.97,176.56 198.56,179.97 195.15,176.56" fill="#00FFFF"/><polygon points="226.27,161.49 229.68,164.90 226.27,168.31 222.86,164.90" fill="#00FFFF"/><polygon points="253.99,153.25 257.40,156.66 253.99,160.07 250.58,156.66" fill="#00FFFF"/><polygon points="281.70,148.96 285.11,152.37 281.70,155.78 278.29,152.37" fill="#00FFFF"/><polygon points="309.41,149.37 312.82,152.78 309.41,156.19 306.00,152.78" fill="#00FFFF"/><polygon points="337.12,155.59 340.54,159.00 337.12,162.41 333.71,159.00" fill="#00FFFF"/><polygon points="364.84,169.40 368.25,172.81 364.84,176.22 361.43,172.81" fill="#00FFFF"/><polygon points="392.55,194.25 395.96,197.66 392.55,201.07 389.14,197.66" fill="#00FFFF"/><polygon points="420.26,240.14 423.67,243.55 420.26,246.96 416.85,243.55" fill="#00FFFF"/></g>
<polyline points="60.7,273.5 62.5,272.0 64.3,270.4 66.0,268.8 67.8,267.3 69.5,265.7 71.3,264.2 73.1,262.7 74.8,261.1 76.6,259.6 78.3,258.1 80.1,256.6 81.9,255.1 83.6,253.6 85.4,252.2 87.1,250.7 88.9,249.2 90.7,247.8 92.4,246.4 94.2,244.9 95.9,243.5 97.7,242.1 99.5,240.7 101.2,239.3 103.0,237.9 104.7,236.5 106.5,235.1 108.3,233.7 110.0,232.4 111.8,231.0 113.5,229.7 115.3,228.4 117.1,227.0 118.8,225.7 120.6,224.4 122.3,223.1 124.1,221.9 125.9,220.6 127.6,219.3 129.4,218.0 131.1,216.8 132.9,215.6 134.7,214.3 136.4,213.1 138.2,211.9 139.9,210.7 141.7,209.5 143.5,208.3 145.2,207.1 147.0,206.0 148.8,204.8 150.5,203.7 152.3,202.5 154.0,201.4 155.8,200.3 157.6,199.2 159.3,198.1 161.1,197.0 162.8,196.0 164.6,194.9 166.4,193.8 168.1,192.8 169.9,191.8 171.6,190.8 173.4,189.7 175.2,188.8 176.9,187.8 178.7,186.8 180.4,185.8 182.2,184.9 184.0,183.9 185.7,183.0 187.5,182.1 189.2,181.2 191.0,180.3 192.8,179.4 194.5,178.5 196.3,177.7 198.0,176.8 199.8,176.0 201.6,175.1 203.3,174.3 205.1,173.5 206.8,172.7 208.6,172.0 210.4,171.2 212.1,170.5 213.9,169.7 215.6,169.0 217.4,168.3 219.2,167.6 220.9,166.9 222.7,166.2 224.4,165.6 226.2,164.9 228.0,164.3 229.7,163.7 231.5,163.1 233.2,162.5 235.0,161.9 236.8,161.4 238.5,160.8 240.3,160.3 242.0,159.8 243.8,159.3 245.6,158.8 247.3,158.3 249.1,157.8 250.8,157.4 252.6,157.0 254.4,156.6 256.1,156.2 257.9,155.8 259.6,155.4 261.4,155.1 263.2,154.8 264.9,154.5 266.7,154.2 268.4,153.9 270.2,153.6 272.0,153.4 273.7,153.2 275.5,153.0 277.2,152.8 279.0,152.6 280.8,152.4 282.5,152.3 284.3,152.2 286.0,152.1 287.8,152.0 289.6,152.0 291.3,151.9 293.1,151.9 294.8,151.9 296.6,151.9 298.4,152.0 300.1,152.1 301.9,152.2 303.7,152.3 305.4,152.4 307.2,152.6 308.9,152.7 310.7,152.9 312.5,153.2 314.2,153.4 316.0,153.7 317.7,154.0 319.5,154.3 321.3,154.6 323.0,155.0 324.8,155.4 326.5,155.8 328.3,156.3 330.1,156.8 331.8,157.3 333.6,157.8 335.3,158.4 337.1,159.0 338.9,159.6 340.6,160.3 342.4,161.0 344.1,161.7 345.9,162.4 347.7,163.2 349.4,164.0 351.2,164.9 352.9,165.8 354.7,166.7 356.5,167.7 358.2,168.7 360.0,169.7 361.7,170.8 363.5,171.9 365.3,173.1 367.0,174.3 368.8,175.6 370.5,176.9 372.3,178.2 374.1,179.6 375.8,181.0 377.6,182.5 379.3,184.1 381.1,185.7 382.9,187.4 384.6,189.1 386.4,190.9 388.1,192.7 389.9,194.6 391.7,196.6 393.4,198.7 395.2,200.8 396.9,203.1 398.7,205.4 400.5,207.8 402.2,210.3 404.0,212.8 405.7,215.6 407.5,218.4 409.3,221.3 411.0,224.4 411.0,224.4 411.1,224.6 411.3,224.9 411.4,225.1 411.5,225.3 411.6,225.5 411.8,225.7 411.9,226.0 412.0,226.2 412.1,226.4 412.3,226.7 412.4,226.9 412.5,227.1 412.6,227.3 412.7,227.6 412.9,227.8 413.0,228.0 413.1,228.3 413.2,228.5 413.4,228.7 413.5,229.0 413.6,229.2 413.7,229.4 413.8,229.7 414.0,229.9 414.1,230.2 414.2,230.4 414.3,230.6 414.5,230.9 414.6,231.1 414.7,231.4 414.8,231.6 415.0,231.9 415.1,232.1 415.2,232.4 415.3,232.6 415.4,232.9 415.6,233.1 415.7,233.4 415.8,233.6 415.9,233.9 416.1,234.1 416.2,234.4 416.3,234.6 416.4,234.9 416.5,235.2 416.7,235.4 416.8,235.7 416.9,235.9 417.0,236.2 417.2,236.5 417.3,236.7 417.4,237.0 417.5,237.3 417.7,237.5 417.8,237.8 417.9,238.1 418.0,238.4 418.1,238.6 418.3,238.9 418.4,239.2 418.5,239.5 418.6,239.7 418.8,240.0 418.9,240.3 419.0,240.6 419.1,240.9 419.2,241.1 419.4,241.4 419.5,241.7 419.6,242.0 419.7,242.3 419.9,242.6 420.0,242.9 420.1,243.2 420.2,243.5 420.4,243.8 420.5,244.1 420.6,244.4 420.7,244.7 420.8,245.0 421.0,245.3 421.1,245.6 421.2,245.9 421.3,246.2 421.5,246.5 421.6,246.8 421.7,247.1 421.8,247.5 422.0,247.8 422.1,248.1 422.2,248.4 422.3,248.7 422.4,249.1 422.6,249.4 422.7,249.7 422.8,250.1 422.9,250.4 423.1,250.7 423.2,251.1 423.3,251.4 423.4,251.7 423.5,252.1 423.7,252.4 423.8,252.8 423.9,253.1 424.0,253.5 424.2,253.8 424.3,254.2 424.4,254.6 424.5,254.9 424.7,255.3 424.8,255.7 424.9,256.0 425.0,256.4 425.1,256.8 425.3,257.2 425.4,257.6 425.5,257.9 425.6,258.3 425.8,258.7 425.9,259.1 426.0,259.5 426.1,259.9 426.2,260.3 426.4,260.8 426.5,261.2 426.6,261.6 426.7,262.0 426.9,262.5 427.0,262.9 427.1,263.3 427.2,263.8 427.4,264.3 427.5,264.7 427.6,265.2 427.7,265.7 427.8,266.1 428.0,266.6 428.1,267.1 428.2,267.6 428.3,268.2 428.5,268.7 428.6,269.2 428.7,269.8 428.8,270.4 428.9,271.0 429.1,271.6 429.2,272.2 429.3,272.9" stroke="#CC9900" stroke-width="1"/>
<g stroke="none"><polygon points="84.46,250.23 90.04,247.13 90.04,253.33" fill="#FF00FF"/><polygon points="112.17,228.28 117.75,225.18 117.75,231.38" fill="#FF00FF"/><polygon points="139.88,208.54 145.46,205.44 145.46,211.64" fill="#FF00FF"/><polygon points="167.59,191.21 173.17,188.11 173.17,194.31" fill="#FF00FF"/><polygon points="195.31,176.56 200.89,173.46 200.89,179.66" fill="#FF00FF"/><polygon points="223.02,164.90 228.60,161.80 228.60,168.00" fill="#FF00FF"/><polygon points="250.73,156.66 256.31,153.56 256.31,159.76" fill="#FF00FF"/><polygon points="278.44,152.37 284.02,149.27 284.02,155.47" fill="#FF00FF"/><polygon points="306.16,152.78 311.74,149.68 311.74,155.88" fill="#FF00FF"/><polygon points="333.87,159.00 339.45,155.90 339.45,162.10" fill="#FF00FF"/><polygon points="361.58,172.81 367.16,169.71 367.16,175.91" fill="#FF00FF"/><polygon points="389.29,197.66 394.87,194.56 394.87,200.76" fill="#FF00FF"/><polygon points="417.01,243.55 422.59,240.45 422.59,246.65" fill="#FF00FF"/></g>
<polyline points="60.7,273.6 62.5,272.3 64.3,271.0 66.0,269.7 67.8,268.4 69.5,267.1 71.3,265.8 73.1,264.5 74.8,263.2 76.6,261.9 78.3,260.6 80.1,259.3 81.9,258.0 83.6,256.7 85.4,255.4 87.1,254.2 88.9,252.9 90.7,251.6 92.4,250.4 94.2,249.1 95.9,247.8 97.7,246.6 99.5,245.3 101.2,244.1 103.0,242.8 104.7,241.6 106.5,240.4 108.3,239.1 110.0,237.9 111.8,236.7 113.5,235.5 115.3,234.3 117.1,233.0 118.8,231.8 120.6,230.6 122.3,229.4 124.1,228.2 125.9,227.1 127.6,225.9 129.4,224.7 131.1,223.5 132.9,222.3 134.7,221.2 136.4,220.0 138.2,218.8 139.9,217.7 141.7,216.5 143.5,215.4 145.2,214.2 147.0,213.1 148.8,212.0 150.5,210.9 152.3,209.7 154.0,208.6 155.8,207.5 157.6,206.4 159.3,205.3 161.1,204.2 162.8,203.1 164.6,202.0 166.4,200.9 168.1,199.8 169.9,198.8 171.6,197.7 173.4,196.6 175.2,195.6 176.9,194.5 178.7,193.5 180.4,192.5 182.2,191.4 184.0,190.4 185.7,189.4 187.5,188.4 189.2,187.4 191.0,186.3 192.8,185.4 194.5,184.4 196.3,183.4 198.0,182.4 199.8,181.4 201.6,180.5 203.3,179.5 205.1,178.5 206.8,177.6 208.6,176.7 210.4,175.7 212.1,174.8 213.9,173.9 215.6,173.0 217.4,172.1 219.2,171.2 220.9,170.3 222.7,169.4 224.4,168.5 226.2,167.7 228.0,166.8 229.7,165.9 231.5,165.1 233.2,164.3 235.0,163.4 236.8,162.6 238.5,161.8 240.3,161.0 242.0,160.2 243.8,159.4 245.6,158.6 247.3,157.9 249.1,157.1 250.8,156.4 252.6,155.6 254.4,154.9 256.1,154.2 257.9,153.5 259.6,152.8 261.4,152.1 263.2,151.4 264.9,150.7 266.7,150.1 268.4,149.4 270.2,148.8 272.0,148.2 273.7,147.5 275.5,146.9 277.2,146.3 279.0,145.8 280.8,145.2 282.5,144.6 284.3,144.1 286.0,143.6 287.8,143.1 289.6,142.5 291.3,142.1 293.1,141.6 294.8,141.1 296.6,140.7 298.4,140.2 300.1,139.8 301.9,139.4 303.7,139.0 305.4,138.7 307.2,138.3 308.9,138.0 310.7,137.6 312.5,137.3 314.2,137.0 316.0,136.8 317.7,136.5 319.5,136.3 321.3,136.1 323.0,135.9 324.8,135.7 326.5,135.6 328.3,135.4 330.1,135.3 331.8,135.3 333.6,135.2 335.3,135.2 337.1,135.1 338.9,135.2 340.6,135.2 342.4,135.3 344.1,135.3 345.9,135.5 347.7,135.6 349.4,135.8 351.2,136.0 352.9,136.3 354.7,136.5 356.5,136.8 358.2,137.2 360.0,137.6 361.7,138.0 363.5,138.5 365.3,139.0 367.0,139.5 368.8,140.1 370.5,140.8 372.3,141.5 374.1,142.2 375.8,143.0 377.6,143.9 379.3,144.8 381.1,145.7 382.9,146.8 384.6,147.9 386.4,149.1 388.1,150.4 389.9,151.7 391.7,153.2 393.4,154.7 395.2,156.3 396.9,158.1 398.7,160.0 400.5,162.0 402.2,164.1 404.0,166.4 405.7,168.9 407.5,171.6 409.3,174.5 411.0,177.6 411.0,177.6 411.1,177.9 411.3,178.1 411.4,178.3 411.5,178.6 411.6,178.8 411.8,179.0 411.9,179.3 412.0,179.5 412.1,179.7 412.3,180.0 412.4,180.2 412.5,180.5 412.6,180.7 412.7,181.0 412.9,181.2 413.0,181.5 413.1,181.7 413.2,182.0 413.4,182.2 413.5,182.5 413.6,182.8 413.7,183.0 413.8,183.3 414.0,183.5 414.1,183.8 414.2,184.1 414.3,184.4 414.5,184.6 414.6,184.9 414.7,185.2 414.8,185.5 415.0,185.7 415.1,186.0 415.2,186.3 415.3,186.6 415.4,186.9 415.6,187.2 415.7,187.5 415.8,187.7 415.9,188.0 416.1,188.3 416.2,188.6 416.3,188.9 416.4,189.3 416.5,189.6 416.7,189.9 416.8,190.2 416.9,190.5 417.0,190.8 417.2,191.1 417.3,191.5 417.4,191.8 417.5,192.1 417.7,192.4 417.8,192.8 417.9,193.1 418.0,193.4 418.1,193.8 418.3,194.1 418.4,194.5 418.5,194.8 418.6,195.2 418.8,195.5 418.9,195.9 419.0,196.3 419.1,196.6 419.2,197.0 419.4,197.4 419.5,197.7 419.6,198.1 419.7,198.5 419.9,198.9 420.0,199.3 420.1,199.7 420.2,200.1 420.4,200.5 420.5,200.9 420.6,201.3 420.7,201.7 420.8,202.1 421.0,202.5 421.1,202.9 421.2,203.4 421.3,203.8 421.5,204.2 421.6,204.7 421.7,205.1 421.8,205.6 422.0,206.1 422.1,206.5 422.2,207.0 422.3,207.5 422.4,207.9 422.6,208.4 422.7,208.9 422.8,209.4 422.9,209.9 423.1,210.4 423.2,211.0 423.3,211.5 423.4,212.0 423.5,212.6 423.7,213.1 423.8,213.7 423.9,214.2 424.0,214.8 424.2,215.4 424.3,216.0 424.4,216.6 424.5,217.2 424.7,217.8 424.8,218.4 424.9,219.0 425.0,219.7 425.1,220.4 425.3,221.0 425.4,221.7 425.5,222.4 425.6,223.1 425.8,223.8 425.9,224.6 426.0,225.3 426.1,226.1 426.2,226.9 426.4,227.7 426.5,228.5 426.6,229.4 426.7,230.3 426.9,231.2 427.0,232.1 427.1,233.0 427.2,234.0 427.4,235.0 427.5,236.1 427.6,237.1 427.7,238.3 427.8,239.4 428.0,240.7 428.1,241.9 428.2,243.3 428.3,244.7 428.5,246.2 428.6,247.8 428.7,249.5 428.8,251.4 428.9,253.5 429.1,255.9 429.2,258.6 429.3,262.0" stroke="#00CBCC"/>
<g stroke="none"><polygon points="90.97,253.75 85.39,250.65 85.39,256.85" fill="#FFFF00"/><polygon points="118.68,234.18 113.10,231.08 113.10,237.28" fill="#FFFF00"/><polygon points="146.39,215.61 140.81,212.51 140.81,218.71" fill="#FFFF00"/><polygon points="174.10,198.18 168.53,195.08 168.53,201.28" fill="#FFFF00"/><polygon points="201.82,182.10 196.24,179.00 196.24,185.20" fill="#FFFF00"/><polygon points="229.53,167.61 223.95,164.51 223.95,170.71" fill="#FFFF00"/><polygon points="257.24,155.05 251.66,151.95 251.66,158.15" fill="#FFFF00"/><polygon points="284.95,144.90 279.38,141.80 279.38,148.00" fill="#FFFF00"/><polygon points="312.67,137.87 307.09,134.77 307.09,140.97" fill="#FFFF00"/><polygon points="340.38,135.14 334.80,132.04 334.80,138.24" fill="#FFFF00"/><polygon points="368.09,138.85 362.51,135.75 362.51,141.95" fill="#FFFF00"/><polygon points="395.80,153.93 390.22,150.83 390.22,157.03" fill="#FFFF00"/><polygon points="423.52,200.16 417.94,197.06 417.94,203.26" fill="#FFFF00"/></g>
<polyline points="60.7,273.6 62.5,272.2 64.3,270.8 66.0,269.4 67.8,268.0 69.5,266.6 71.3,265.3 73.1,263.9 74.8,262.5 76.6,261.1 78.3,259.8 80.1,258.4 81.9,257.1 83.6,255.7 85.4,254.4 87.1,253.0 88.9,251.7 90.7,250.4 92.4,249.1 94.2,247.7 95.9,246.4 97.7,245.1 99.5,243.8 101.2,242.5 103.0,241.2 104.7,239.9 106.5,238.7 108.3,237.4 110.0,236.1 111.8,234.9 113.5,233.6 115.3,232.3 117.1,231.1 118.8,229.9 120.6,228.6 122.3,227.4 124.1,226.2 125.9,224.9 127.6,223.7 129.4,222.5 131.1,221.3 132.9,220.1 134.7,218.9 136.4,217.7 138.2,216.6 139.9,215.4 141.7,214.2 143.5,213.1 145.2,211.9 147.0,210.8 148.8,209.6 150.5,208.5 152.3,207.4 154.0,206.2 155.8,205.1 157.6,204.0 159.3,202.9 161.1,201.8 162.8,200.7 164.6,199.6 166.4,198.6 168.1,197.5 169.9,196.4 171.6,195.4 173.4,194.4 175.2,193.3 176.9,192.3 178.7,191.3 180.4,190.2 182.2,189.2 184.0,188.2 185.7,187.2 187.5,186.3 189.2,185.3 191.0,184.3 192.8,183.3 194.5,182.4 196.3,181.5 198.0,180.5 199.8,179.6 201.6,178.7 203.3,177.8 205.1,176.9 206.8,176.0 208.6,175.1 210.4,174.2 212.1,173.3 213.9,172.5 215.6,171.6 217.4,170.8 219.2,169.9 220.9,169.1 222.7,168.3 224.4,167.5 226.2,166.7 228.0,165.9 229.7,165.2 231.5,164.4 233.2,163.7 235.0,162.9 236.8,162.2 238.5,161.5 240.3,160.8 242.0,160.1 243.8,159.4 245.6,158.7 247.3,158.0 249.1,157.4 250.8,156.7 252.6,156.1 254.4,155.5 256.1,154.9 257.9,154.3 259.6,153.7 261.4,153.1 263.2,152.6 264.9,152.0 266.7,151.5 268.4,151.0 270.2,150.5 272.0,150.0 273.7,149.5 275.5,149.1 277.2,148.6 279.0,148.2 280.8,147.8 282.5,147.4 284.3,147.0 286.0,146.6 287.8,146.2 289.6,145.9 291.3,145.6 293.1,145.3 294.8,145.0 296.6,144.7 298.4,144.5 300.1,144.2 301.9,144.0 303.7,143.8 305.4,143.6 307.2,143.5 308.9,143.3 310.7,143.2 312.5,143.1 314.2,143.0 316.0,142.9 317.7,142.9 319.5,142.9 321.3,142.9 323.0,142.9 324.8,143.0 326.5,143.0 328.3,143.1 330.1,143.3 331.8,143.4 333.6,143.6 335.3,143.8 337.1,144.0 338.9,144.3 340.6,144.6 342.4,144.9 344.1,145.2 345.9,145.6 347.7,146.0 349.4,146.5 351.2,147.0 352.9,147.5 354.7,148.0 356.5,148.6 358.2,149.3 360.0,149.9 361.7,150.6 363.5,151.4 365.3,152.2 367.0,153.0 368.8,153.9 370.5,154.9 372.3,155.9 374.1,156.9 375.8,158.0 377.6,159.2 379.3,160.4 381.1,161.7 382.9,163.0 384.6,164.5 386.4,166.0 388.1,167.5 389.9,169.2 391.7,171.0 393.4,172.8 395.2,174.7 396.9,176.8 398.7,178.9 400.5,181.2 402.2,183.6 404.0,186.2 405.7,188.9 407.5,191.8 409.3,194.9 411.0,198.2 411.0,198.2 411.1,198.5 411.3,198.7 411.4,198.9 411.5,199.2 411.6,199.4 411.8,199.7 411.9,199.9 412.0,200.2 412.1,200.4 412.3,200.7 412.4,200.9 412.5,201.2 412.6,201.4 412.7,201.7 412.9,201.9 413.0,202.2 413.1,202.4 413.2,202.7 413.4,203.0 413.5,203.2 413.6,203.5 413.7,203.8 413.8,204.0 414.0,204.3 414.1,204.6 414.2,204.8 414.3,205.1 414.5,205.4 414.6,205.7 414.7,206.0 414.8,206.2 415.0,206.5 415.1,206.8 415.2,207.1 415.3,207.4 415.4,207.7 415.6,207.9 415.7,208.2 415.8,208.5 415.9,208.8 416.1,209.1 416.2,209.4 416.3,209.7 416.4,210.0 416.5,210.3 416.7,210.6 416.8,210.9 416.9,211.3 417.0,211.6 417.2,211.9 417.3,212.2 417.4,212.5 417.5,212.8 417.7,213.2 417.8,213.5 417.9,213.8 418.0,214.1 418.1,214.5 418.3,214.8 418.4,215.1 418.5,215.5 418.6,215.8 418.8,216.2 418.9,216.5 419.0,216.9 419.1,217.2 419.2,217.6 419.4,217.9 419.5,218.3 419.6,218.6 419.7,219.0 419.9,219.4 420.0,219.7 420.1,220.1 420.2,220.5 420.4,220.9 420.5,221.2 420.6,221.6 420.7,222.0 420.8,222.4 421.0,222.8 421.1,223.2 421.2,223.6 421.3,224.0 421.5,224.4 421.6,224.8 421.7,225.2 421.8,225.6 422.0,226.1 422.1,226.5 422.2,226.9 422.3,227.3 422.4,227.8 422.6,228.2 422.7,228.7 422.8,229.1 422.9,229.6 423.1,230.0 423.2,230.5 423.3,231.0 423.4,231.5 423.5,231.9 423.7,232.4 423.8,232.9 423.9,233.4 424.0,233.9 424.2,234.4 424.3,234.9 424.4,235.5 424.5,236.0 424.7,236.5 424.8,237.1 424.9,237.6 425.0,238.2 425.1,238.7 425.3,239.3 425.4,239.9 425.5,240.5 425.6,241.1 425.8,241.7 425.9,242.3 426.0,242.9 426.1,243.6 426.2,244.2 426.4,244.9 426.5,245.5 426.6,246.2 426.7,246.9 426.9,247.7 427.0,248.4 427.1,249.1 427.2,249.9 427.4,250.7 427.5,251.5 427.6,252.3 427.7,253.2 427.8,254.1 428.0,255.0 428.1,255.9 428.2,256.9 428.3,257.9 428.5,259.0 428.6,260.1 428.7,261.3 428.8,262.6 428.9,263.9 429.1,265.4 429.2,267.1 429.3,269.1" stroke="#7D4E4E" stroke-width="1"/>
<g stroke="none"><polygon points="90.97,252.61 89.34,255.43 86.09,255.43 84.46,252.61 86.09,249.79 89.34,249.79" fill="#808000"/><polygon points="118.68,232.26 117.05,235.08 113.80,235.08 112.17,232.26 113.80,229.44 117.05,229.44" fill="#808000"/><polygon points="146.39,213.28 144.76,216.10 141.51,216.10 139.88,213.28 141.51,210.46 144.76,210.46" fill="#808000"/><polygon points="174.10,195.86 172.48,198.68 169.22,198.68 167.59,195.86 169.22,193.04 172.48,193.04" fill="#808000"/><polygon points="201.82,180.24 200.19,183.05 196.94,183.05 195.31,180.24 196.94,177.42 200.19,177.42" fill="#808000"/><polygon points="229.53,166.69 227.90,169.51 224.65,169.51 223.02,166.69 224.65,163.87 227.90,163.87" fill="#808000"/><polygon points="257.24,155.61 255.62,158.43 252.36,158.43 250.73,155.61 252.36,152.79 255.62,152.79" fill="#808000"/><polygon points="284.95,147.54 283.33,150.36 280.07,150.36 278.44,147.54 280.07,144.73 283.33,144.73" fill="#808000"/><polygon points="312.67,143.27 311.04,146.09 307.78,146.09 306.16,143.27 307.78,140.45 311.04,140.45" fill="#808000"/><polygon points="340.38,144.03 338.75,146.85 335.50,146.85 333.87,144.03 335.50,141.21 338.75,141.21" fill="#808000"/><polygon points="368.09,151.99 366.46,154.81 363.21,154.81 361.58,151.99 363.21,149.17 366.46,149.17" fill="#808000"/><polygon points="395.80,171.87 394.18,174.69 390.92,174.69 389.29,171.87 390.92,169.05 394.18,169.05" fill="#808000"/><polygon points="423.52,220.57 421.89,223.39 418.63,223.39 417.01,220.57 418.63,217.75 421.89,217.75" fill="#808000"/></g>
<polyline points="60.7,273.7 62.5,272.6 64.3,271.5 66.0,270.4 67.8,269.3 69.5,268.3 71.3,267.2 73.1,266.1 74.8,265.0 76.6,263.9 78.3,262.8 80.1,261.7 81.9,260.6 83.6,259.5 85.4,258.4 87.1,257.3 88.9,256.2 90.7,255.1 92.4,254.0 94.2,252.9 95.9,251.8 97.7,250.7 99.5,249.6 101.2,248.5 103.0,247.4 104.7,246.3 106.5,245.2 108.3,244.1 110.0,243.0 111.8,241.9 113.5,240.8 115.3,239.7 117.1,238.6 118.8,237.5 120.6,236.4 122.3,235.3 124.1,234.2 125.9,233.1 127.6,232.0 129.4,230.9 131.1,229.8 132.9,228.7 134.7,227.6 136.4,226.5 138.2,225.4 139.9,224.3 141.7,223.3 143.5,222.2 145.2,221.1 147.0,220.0 148.8,218.9 150.5,217.8 152.3,216.7 154.0,215.6 155.8,214.5 157.6,213.4 159.3,212.3 161.1,211.2 162.8,210.1 164.6,209.0 166.4,207.9 168.1,206.8 169.9,205.7 171.6,204.6 173.4,203.5 175.2,202.4 176.9,201.3 178.7,200.2 180.4,199.1 182.2,198.0 184.0,196.9 185.7,195.8 187.5,194.7 189.2,193.6 191.0,192.5 192.8,191.4 194.5,190.3 196.3,189.2 198.0,188.1 199.8,187.0 201.6,185.9 203.3,184.8 205.1,183.7 206.8,182.6 208.6,181.5 210.4,180.4 212.1,179.3 213.9,178.2 215.6,177.2 217.4,176.1 219.2,175.0 220.9,173.9 222.7,172.8 224.4,171.7 226.2,170.6 228.0,169.5 229.7,168.4 231.5,167.3 233.2,166.2 235.0,165.1 236.8,164.0 238.5,162.9 240.3,161.8 242.0,160.7 243.8,159.6 245.6,158.5 247.3,157.4 249.1,156.3 250.8,155.2 252.6,154.1 254.4,153.0 256.1,151.9 257.9,150.8 259.6,149.7 261.4,148.6 263.2,147.5 264.9,146.4 266.7,145.3 268.4,144.2 270.2,143.1 272.0,142.0 273.7,140.9 275.5,139.8 277.2,138.7 279.0,137.6 280.8,136.5 282.5,135.4 284.3,134.3 286.0,133.2 287.8,132.2 289.6,131.1 291.3,130.0 293.1,128.9 294.8,127.8 296.6,126.7 298.4,125.6 300.1,124.5 301.9,123.4 303.7,122.3 305.4,121.2 307.2,120.1 308.9,119.0 310.7,117.9 312.5,116.8 314.2,115.7 316.0,114.6 317.7,113.5 319.5,112.4 321.3,111.3 323.0,110.2 324.8,109.1 326.5,108.0 328.3,106.9 330.1,105.8 331.8,104.7 333.6,103.6 335.3,102.5 337.1,101.4 338.9,100.3 340.6,99.2 342.4,98.1 344.1,97.0 345.9,95.9 347.7,94.8 349.4,93.7 351.2,92.6 352.9,91.5 354.7,90.4 356.5,89.3 358.2,88.2 360.0,87.1 361.7,86.1 363.5,85.0 365.3,83.9 367.0,82.8 368.8,81.7 370.5,80.6 372.3,79.5 374.1,78.4 375.8,77.3 377.6,76.2 379.3,75.1 381.1,74.0 382.9,72.9 384.6,71.8 386.4,70.7 388.1,69.6 389.9,68.5 391.7,67.4 393.4,66.3 395.2,65.2 396.9,64.1 398.7,63.0 400.5,61.9 402.2,60.8 404.0,59.7 405.7,58.6 407.5,57.5 409.3,56.4 411.0,55.3 411.0,55.3 411.1,55.2 411.3,55.2 411.4,55.1 411.5,55.0 411.6,54.9 411.8,54.9 411.9,54.8 412.0,54.7 412.1,54.6 412.3,54.6 412.4,54.5 412.5,54.4 412.6,54.3 412.7,54.2 412.9,54.2 413.0,54.1 413.1,54.0 413.2,53.9 413.4,53.9 413.5,53.8 413.6,53.7 413.7,53.6 413.8,53.6 414.0,53.5 414.1,53.4 414.2,53.3 414.3,53.3 414.5,53.2 414.6,53.1 414.7,53.0 414.8,52.9 415.0,52.9 415.1,52.8 415.2,52.7 415.3,52.6 415.4,52.6 415.6,52.5 415.7,52.4 415.8,52.3 415.9,52.3 416.1,52.2 416.2,52.1 416.3,52.0 416.4,52.0 416.5,51.9 416.7,51.8 416.8,51.7 416.9,51.6 417.0,51.6 417.2,51.5 417.3,51.4 417.4,51.3 417.5,51.3 417.7,51.2 417.8,51.1 417.9,51.0 418.0,51.0 418.1,50.9 418.3,50.8 418.4,50.7 418.5,50.7 418.6,50.6 418.8,50.5 418.9,50.4 419.0,50.3 419.1,50.3 419.2,50.2 419.4,50.1 419.5,50.0 419.6,50.0 419.7,49.9 419.9,49.8 420.0,49.7 420.1,49.7 420.2,49.6 420.4,49.5 420.5,49.4 420.6,49.3 420.7,49.3 420.8,49.2 421.0,49.1 421.1,49.0 421.2,49.0 421.3,48.9 421.5,48.8 421.6,48.7 421.7,48.7 421.8,48.6 422.0,48.5 422.1,48.4 422.2,48.4 422.3,48.3 422.4,48.2 422.6,48.1 422.7,48.0 422.8,48.0 422.9,47.9 423.1,47.8 423.2,47.7 423.3,47.7 423.4,47.6 423.5,47.5 423.7,47.4 423.8,47.4 423.9,47.3 424.0,47.2 424.2,47.1 424.3,47.1 424.4,47.0 424.5,46.9 424.7,46.8 424.8,46.7 424.9,46.7 425.0,46.6 425.1,46.5 425.3,46.4 425.4,46.4 425.5,46.3 425.6,46.2 425.8,46.1 425.9,46.1 426.0,46.0 426.1,45.9 426.2,45.8 426.4,45.8 426.5,45.7 426.6,45.6 426.7,45.5 426.9,45.4 427.0,45.4 427.1,45.3 427.2,45.2 427.4,45.1 427.5,45.1 427.6,45.0 427.7,44.9 427.8,44.8 428.0,44.8 428.1,44.7 428.2,44.6 428.3,44.5 428.5,44.5 428.6,44.4 428.7,44.3 428.8,44.2 428.9,44.1 429.1,44.1 429.2,44.0 429.3,43.9" stroke="#8E8E00"/>
<g stroke="none"><polygon points="87.71,253.35 88.59,255.72 91.10,255.82 89.13,257.38 89.81,259.80 87.71,258.41 85.62,259.80 86.30,257.38 84.32,255.82 86.84,255.72" fill="#000080"/><polygon points="115.42,236.07 116.30,238.44 118.82,238.54 116.84,240.10 117.52,242.52 115.42,241.13 113.33,242.52 114.01,240.10 112.03,238.54 114.55,238.44" fill="#000080"/><polygon points="143.14,218.79 144.01,221.16 146.53,221.26 144.55,222.82 145.23,225.24 143.14,223.85 141.04,225.24 141.72,222.82 139.75,221.26 142.26,221.16" fill="#000080"/><polygon points="170.85,201.51 171.72,203.88 174.24,203.98 172.27,205.54 172.95,207.96 170.85,206.57 168.75,207.96 169.43,205.54 167.46,203.98 169.98,203.88" fill="#000080"/><polygon points="198.56,184.23 199.44,186.60 201.95,186.70 199.98,188.26 200.66,190.68 198.56,189.29 196.47,190.68 197.15,188.26 195.17,186.70 197.69,186.60" fill="#000080"/><polygon points="226.27,166.95 227.15,169.32 229.67,169.42 227.69,170.98 228.37,173.40 226.27,172.01 224.18,173.40 224.86,170.98 222.88,169.42 225.40,169.32" fill="#000080"/><polygon points="253.99,149.67 254.86,152.04 257.38,152.14 255.40,153.70 256.08,156.12 253.99,154.73 251.89,156.12 252.57,153.70 250.60,152.14 253.11,152.04" fill="#000080"/><polygon points="281.70,132.39 282.57,134.76 285.09,134.86 283.12,136.42 283.80,138.84 281.70,137.45 279.60,138.84 280.28,136.42 278.31,134.86 280.83,134.76" fill="#000080"/><polygon points="309.41,115.12 310.29,117.48 312.80,117.58 310.83,119.14 311.51,121.56 309.41,120.17 307.32,121.56 308.00,119.14 306.02,117.58 308.54,117.48" fill="#000080"/><polygon points="337.12,97.83 338.00,100.20 340.52,100.30 338.54,101.86 339.22,104.28 337.12,102.89 335.03,104.28 335.71,101.86 333.73,100.30 336.25,100.20" fill="#000080"/><polygon points="364.84,80.56 365.71,82.92 368.23,83.02 366.25,84.58 366.93,87.00 364.84,85.61 362.74,87.00 363.42,84.58 361.45,83.02 363.96,82.92" fill="#000080"/><polygon points="392.55,63.28 393.42,65.64 395.94,65.74 393.97,67.30 394.65,69.72 392.55,68.33 390.45,69.72 391.13,67.30 389.16,65.74 391.68,65.64" fill="#000080"/><polygon points="420.26,46.00 421.14,48.36 423.65,48.46 421.68,50.02 422.36,52.44 420.26,51.05 418.17,52.44 418.85,50.02 416.87,48.46 419.39,48.36" fill="#000080"/></g>
<polyline points="60.7,273.7 62.5,272.4 64.3,271.2 66.0,270.0 67.8,268.7 69.5,267.5 71.3,266.3 73.1,265.1 74.8,263.8 76.6,262.6 78.3,261.4 80.1,260.2 81.9,259.0 83.6,257.7 85.4,256.5 87.1,255.3 88.9,254.1 90.7,252.9 92.4,251.7 94.2,250.5 95.9,249.3 97.7,248.1 99.5,246.9 101.2,245.7 103.0,244.6 104.7,243.4 106.5,242.2 108.3,241.0 110.0,239.8 111.8,238.6 113.5,237.5 115.3,236.3 117.1,235.1 118.8,234.0 120.6,232.8 122.3,231.6 124.1,230.5 125.9,229.3 127.6,228.2 129.4,227.0 131.1,225.9 132.9,224.7 134.7,223.6 136.4,222.5 138.2,221.3 139.9,220.2 141.7,219.0 143.5,217.9 145.2,216.8 147.0,215.7 148.8,214.6 150.5,213.4 152.3,212.3 154.0,211.2 155.8,210.1 157.6,209.0 159.3,207.9 161.1,206.8 162.8,205.7 164.6,204.6 166.4,203.5 168.1,202.4 169.9,201.4 171.6,200.3 173.4,199.2 175.2,198.1 176.9,197.1 178.7,196.0 180.4,194.9 182.2,193.9 184.0,192.8 185.7,191.8 187.5,190.7 189.2,189.7 191.0,188.7 192.8,187.6 194.5,186.6 196.3,185.6 198.0,184.5 199.8,183.5 201.6,182.5 203.3,181.5 205.1,180.5 206.8,179.5 208.6,178.5 210.4,177.5 212.1,176.5 213.9,175.5 215.6,174.5 217.4,173.6 219.2,172.6 220.9,171.6 222.7,170.6 224.4,169.7 226.2,168.7 228.0,167.8 229.7,166.8 231.5,165.9 233.2,165.0 235.0,164.0 236.8,163.1 238.5,162.2 240.3,161.3 242.0,160.4 243.8,159.5 245.6,158.6 247.3,157.7 249.1,156.8 250.8,155.9 252.6,155.1 254.4,154.2 256.1,153.3 257.9,152.5 259.6,151.6 261.4,150.8 263.2,150.0 264.9,149.1 266.7,148.3 268.4,147.5 270.2,146.7 272.0,145.9 273.7,145.1 275.5,144.3 277.2,143.5 279.0,142.7 280.8,142.0 282.5,141.2 284.3,140.5 286.0,139.7 287.8,139.0 289.6,138.3 291.3,137.6 293.1,136.9 294.8,136.2 296.6,135.5 298.4,134.8 300.1,134.1 301.9,133.5 303.7,132.8 305.4,132.2 307.2,131.6 308.9,130.9 310.7,130.3 312.5,129.7 314.2,129.2 316.0,128.6 317.7,128.0 319.5,127.5 321.3,126.9 323.0,126.4 324.8,125.9 326.5,125.4 328.3,124.9 330.1,124.5 331.8,124.0 333.6,123.6 335.3,123.2 337.1,122.8 338.9,122.4 340.6,122.0 342.4,121.6 344.1,121.3 345.9,121.0 347.7,120.7 349.4,120.4 351.2,120.1 352.9,119.9 354.7,119.7 356.5,119.5 358.2,119.3 360.0,119.2 361.7,119.1 363.5,119.0 365.3,118.9 367.0,118.9 368.8,118.9 370.5,118.9 372.3,119.0 374.1,119.1 375.8,119.2 377.6,119.4 379.3,119.6 381.1,119.9 382.9,120.2 384.6,120.5 386.4,120.9 388.1,121.4 389.9,121.9 391.7,122.5 393.4,123.2 395.2,123.9 396.9,124.7 398.7,125.6 400.5,126.6 402.2,127.7 404.0,128.9 405.7,130.2 407.5,131.7 409.3,133.3 411.0,135.2 411.0,135.2 411.1,135.3 411.3,135.5 411.4,135.6 411.5,135.7 411.6,135.9 411.8,136.0 411.9,136.2 412.0,136.3 412.1,136.4 412.3,136.6 412.4,136.7 412.5,136.9 412.6,137.0 412.7,137.2 412.9,137.3 413.0,137.5 413.1,137.6 413.2,137.8 413.4,138.0 413.5,138.1 413.6,138.3 413.7,138.4 413.8,138.6 414.0,138.8 414.1,138.9 414.2,139.1 414.3,139.3 414.5,139.4 414.6,139.6 414.7,139.8 414.8,140.0 415.0,140.1 415.1,140.3 415.2,140.5 415.3,140.7 415.4,140.9 415.6,141.0 415.7,141.2 415.8,141.4 415.9,141.6 416.1,141.8 416.2,142.0 416.3,142.2 416.4,142.4 416.5,142.6 416.7,142.8 416.8,143.0 416.9,143.2 417.0,143.4 417.2,143.6 417.3,143.8 417.4,144.0 417.5,144.2 417.7,144.4 417.8,144.7 417.9,144.9 418.0,145.1 418.1,145.3 418.3,145.6 418.4,145.8 418.5,146.0 418.6,146.3 418.8,146.5 418.9,146.7 419.0,147.0 419.1,147.2 419.2,147.5 419.4,147.7 419.5,148.0 419.6,148.2 419.7,148.5 419.9,148.8 420.0,149.0 420.1,149.3 420.2,149.6 420.4,149.9 420.5,150.1 420.6,150.4 420.7,150.7 420.8,151.0 421.0,151.3 421.1,151.6 421.2,151.9 421.3,152.2 421.5,152.5 421.6,152.8 421.7,153.1 421.8,153.5 422.0,153.8 422.1,154.1 422.2,154.5 422.3,154.8 422.4,155.2 422.6,155.5 422.7,155.9 422.8,156.2 422.9,156.6 423.1,157.0 423.2,157.4 423.3,157.7 423.4,158.1 423.5,158.5 423.7,159.0 423.8,159.4 423.9,159.8 424.0,160.2 424.2,160.7 424.3,161.1 424.4,161.6 424.5,162.0 424.7,162.5 424.8,163.0 424.9,163.5 425.0,164.0 425.1,164.5 425.3,165.0 425.4,165.6 425.5,166.1 425.6,166.7 425.8,167.3 425.9,167.9 426.0,168.5 426.1,169.1 426.2,169.8 426.4,170.4 426.5,171.1 426.6,171.8 426.7,172.6 426.9,173.3 427.0,174.1 427.1,175.0 427.2,175.8 427.4,176.7 427.5,177.6 427.6,178.6 427.7,179.6 427.8,180.7 428.0,181.8 428.1,183.1 428.2,184.4 428.3,185.7 428.5,187.2 428.6,188.9 428.7,190.7 428.8,192.7 428.9,195.1 429.1,197.9 429.2,201.3 429.3,206.0" stroke="#FB6501"/>
<g stroke="none"><polygon points="87.71,251.53 90.96,253.88 89.72,257.70 85.71,257.70 84.47,253.88" fill="#800080"/><polygon points="115.42,232.81 118.67,235.17 117.43,238.98 113.42,238.98 112.18,235.17" fill="#800080"/><polygon points="143.14,214.72 146.38,217.08 145.14,220.89 141.13,220.89 139.89,217.08" fill="#800080"/><polygon points="170.85,197.35 174.09,199.71 172.85,203.52 168.85,203.52 167.61,199.71" fill="#800080"/><polygon points="198.56,180.82 201.81,183.18 200.57,186.99 196.56,186.99 195.32,183.18" fill="#800080"/><polygon points="226.27,165.29 229.52,167.64 228.28,171.46 224.27,171.46 223.03,167.64" fill="#800080"/><polygon points="253.99,150.97 257.23,153.32 255.99,157.14 251.98,157.14 250.74,153.32" fill="#800080"/><polygon points="281.70,138.17 284.94,140.53 283.70,144.34 279.70,144.34 278.46,140.53" fill="#800080"/><polygon points="309.41,127.37 312.66,129.73 311.42,133.54 307.41,133.54 306.17,129.73" fill="#800080"/><polygon points="337.12,119.33 340.37,121.69 339.13,125.50 335.12,125.50 333.88,121.69" fill="#800080"/><polygon points="364.84,115.52 368.08,117.88 366.84,121.69 362.83,121.69 361.59,117.88" fill="#800080"/><polygon points="392.55,119.41 395.79,121.77 394.55,125.58 390.55,125.58 389.31,121.77" fill="#800080"/><polygon points="420.26,146.24 423.51,148.60 422.27,152.41 418.26,152.41 417.02,148.60" fill="#800080"/></g>
<polyline points="60.7,273.6 62.5,272.2 64.3,270.8 66.0,269.4 67.8,268.0 69.5,266.6 71.3,265.3 73.1,263.9 74.8,262.5 76.6,261.1 78.3,259.8 80.1,258.4 81.9,257.1 83.6,255.7 85.4,254.4 87.1,253.0 88.9,251.7 90.7,250.4 92.4,249.1 94.2,247.7 95.9,246.4 97.7,245.1 99.5,243.8 101.2,242.5 103.0,241.2 104.7,239.9 106.5,238.7 108.3,237.4 110.0,236.1 111.8,234.9 113.5,233.6 115.3,232.3 117.1,231.1 118.8,229.9 120.6,228.6 122.3,227.4 124.1,226.2 125.9,224.9 127.6,223.7 129.4,222.5 131.1,221.3 132.9,220.1 134.7,218.9 136.4,217.7 138.2,216.6 139.9,215.4 141.7,214.2 143.5,213.1 145.2,211.9 147.0,210.8 148.8,209.6 150.5,208.5 152.3,207.4 154.0,206.2 155.8,205.1 157.6,204.0 159.3,202.9 161.1,201.8 162.8,200.7 164.6,199.6 166.4,198.6 168.1,197.5 169.9,196.4 171.6,195.4 173.4,194.4 175.2,193.3 176.9,192.3 178.7,191.3 180.4,190.2 182.2,189.2 184.0,188.2 185.7,187.2 187.5,186.3 189.2,185.3 191.0,184.3 192.8,183.3 194.5,182.4 196.3,181.5 198.0,180.5 199.8,179.6 201.6,178.7 203.3,177.8 205.1,176.9 206.8,176.0 208.6,175.1 210.4,174.2 212.1,173.3 213.9,172.5 215.6,171.6 217.4,170.8 219.2,169.9 220.9,169.1 222.7,168.3 224.4,167.5 226.2,166.7 228.0,165.9 229.7,165.2 231.5,164.4 233.2,163.7 235.0,162.9 236.8,162.2 238.5,161.5 240.3,160.8 242.0,160.1 243.8,159.4 245.6,158.7 247.3,158.0 249.1,157.4 250.8,156.7 252.6,156.1 254.4,155.5 256.1,154.9 257.9,154.3 259.6,153.7 261.4,153.1 263.2,152.6 264.9,152.0 266.7,151.5 268.4,151.0 270.2,150.5 272.0,150.0 273.7,149.5 275.5,149.1 277.2,148.6 279.0,148.2 280.8,147.8 282.5,147.4 284.3,147.0 286.0,146.6 287.8,146.2 289.6,145.9 291.3,145.6 293.1,145.3 294.8,145.0 296.6,144.7 298.4,144.5 300.1,144.2 301.9,144.0 303.7,143.8 305.4,143.6 307.2,143.5 308.9,143.3 310.7,143.2 312.5,143.1 314.2,143.0 316.0,142.9 317.7,142.9 319.5,142.9 321.3,142.9 323.0,142.9 324.8,143.0 326.5,143.0 328.3,143.1 330.1,143.3 331.8,143.4 333.6,143.6 335.3,143.8 337.1,144.0 338.9,144.3 340.6,144.6 342.4,144.9 344.1,145.2 345.9,145.6 347.7,146.0 349.4,146.5 351.2,147.0 352.9,147.5 354.7,148.0 356.5,148.6 358.2,149.3 360.0,149.9 361.7,150.6 363.5,151.4 365.3,152.2 367.0,153.0 368.8,153.9 370.5,154.9 372.3,155.9 374.1,156.9 375.8,158.0 377.6,159.2 379.3,160.4 381.1,161.7 382.9,163.0 384.6,164.5 386.4,166.0 388.1,167.5 389.9,169.2 391.7,171.0 393.4,172.8 395.2,174.7 396.9,176.8 398.7,178.9 400.5,181.2 402.2,183.6 404.0,186.2 405.7,188.9 407.5,191.8 409.3,194.9 411.0,198.2 411.0,198.2 411.1,198.5 411.3,198.7 411.4,198.9 411.5,199.2 411.6,199.4 411.8,199.7 411.9,199.9 412.0,200.2 412.1,200.4 412.3,200.7 412.4,200.9 412.5,201.2 412.6,201.4 412.7,201.7 412.9,201.9 413.0,202.2 413.1,202.4 413.2,202.7 413.4,203.0 413.5,203.2 413.6,203.5 413.7,203.8 413.8,204.0 414.0,204.3 414.1,204.6 414.2,204.8 414.3,205.1 414.5,205.4 414.6,205.7 414.7,206.0 414.8,206.2 415.0,206.5 415.1,206.8 415.2,207.1 415.3,207.4 415.4,207.7 415.6,207.9 415.7,208.2 415.8,208.5 415.9,208.8 416.1,209.1 416.2,209.4 416.3,209.7 416.4,210.0 416.5,210.3 416.7,210.6 416.8,210.9 416.9,211.3 417.0,211.6 417.2,211.9 417.3,212.2 417.4,212.5 417.5,212.8 417.7,213.2 417.8,213.5 417.9,213.8 418.0,214.1 418.1,214.5 418.3,214.8 418.4,215.1 418.5,215.5 418.6,215.8 418.8,216.2 418.9,216.5 419.0,216.9 419.1,217.2 419.2,217.6 419.4,217.9 419.5,218.3 419.6,218.6 419.7,219.0 419.9,219.4 420.0,219.7 420.1,220.1 420.2,220.5 420.4,220.9 420.5,221.2 420.6,221.6 420.7,222.0 420.8,222.4 421.0,222.8 421.1,223.2 421.2,223.6 421.3,224.0 421.5,224.4 421.6,224.8 421.7,225.2 421.8,225.6 422.0,226.1 422.1,226.5 422.2,226.9 422.3,227.3 422.4,227.8 422.6,228.2 422.7,228.7 422.8,229.1 422.9,229.6 423.1,230.0 423.2,230.5 423.3,231.0 423.4,231.5 423.5,231.9 423.7,232.4 423.8,232.9 423.9,233.4 424.0,233.9 424.2,234.4 424.3,234.9 424.4,235.5 424.5,236.0 424.7,236.5 424.8,237.1 424.9,237.6 425.0,238.2 425.1,238.7 425.3,239.3 425.4,239.9 425.5,240.5 425.6,241.1 425.8,241.7 425.9,242.3 426.0,242.9 426.1,243.6 426.2,244.2 426.4,244.9 426.5,245.5 426.6,246.2 426.7,246.9 426.9,247.7 427.0,248.4 427.1,249.1 427.2,249.9 427.4,250.7 427.5,251.5 427.6,252.3 427.7,253.2 427.8,254.1 428.0,255.0 428.1,255.9 428.2,256.9 428.3,257.9 428.5,259.0 428.6,260.1 428.7,261.3 428.8,262.6 428.9,263.9 429.1,265.4 429.2,267.1 429.3,269.1" stroke="#6699CC"/>
<g stroke="none"><circle cx="87.71" cy="252.61" r="2.94" fill="#800000"/><circle cx="86.91" cy="251.71" r="0.75" fill="#fff" opacity="0.85"/><circle cx="115.42" cy="232.26" r="2.94" fill="#800000"/><circle cx="114.62" cy="231.36" r="0.75" fill="#fff" opacity="0.85"/><circle cx="143.14" cy="213.28" r="2.94" fill="#800000"/><circle cx="142.34" cy="212.38" r="0.75" fill="#fff" opacity="0.85"/><circle cx="170.85" cy="195.86" r="2.94" fill="#800000"/><circle cx="170.05" cy="194.96" r="0.75" fill="#fff" opacity="0.85"/><circle cx="198.56" cy="180.24" r="2.94" fill="#800000"/><circle cx="197.76" cy="179.34" r="0.75" fill="#fff" opacity="0.85"/><circle cx="226.27" cy="166.69" r="2.94" fill="#800000"/><circle cx="225.47" cy="165.79" r="0.75" fill="#fff" opacity="0.85"/><circle cx="253.99" cy="155.61" r="2.94" fill="#800000"/><circle cx="253.19" cy="154.71" r="0.75" fill="#fff" opacity="0.85"/><circle cx="281.70" cy="147.54" r="2.94" fill="#800000"/><circle cx="280.90" cy="146.64" r="0.75" fill="#fff" opacity="0.85"/><circle cx="309.41" cy="143.27" r="2.94" fill="#800000"/><circle cx="308.61" cy="142.37" r="0.75" fill="#fff" opacity="0.85"/><circle cx="337.12" cy="144.03" r="2.94" fill="#800000"/><circle cx="336.32" cy="143.13" r="0.75" fill="#fff" opacity="0.85"/><circle cx="364.84" cy="151.99" r="2.94" fill="#800000"/><circle cx="364.04" cy="151.09" r="0.75" fill="#fff" opacity="0.85"/><circle cx="392.55" cy="171.87" r="2.94" fill="#800000"/><circle cx="391.75" cy="170.97" r="0.75" fill="#fff" opacity="0.85"/><circle cx="420.26" cy="220.57" r="2.94" fill="#800000"/><circle cx="419.46" cy="219.67" r="0.75" fill="#fff" opacity="0.85"/></g>
<polyline points="60.7,273.7 62.5,272.4 64.3,271.1 66.0,269.8 67.8,268.5 69.5,267.2 71.3,265.9 73.1,264.7 74.8,263.4 76.6,262.1 78.3,260.9 80.1,259.6 81.9,258.3 83.6,257.1 85.4,255.8 87.1,254.6 88.9,253.3 90.7,252.1 92.4,250.8 94.2,249.6 95.9,248.4 97.7,247.1 99.5,245.9 101.2,244.7 103.0,243.4 104.7,242.2 106.5,241.0 108.3,239.8 110.0,238.6 111.8,237.4 113.5,236.2 115.3,235.0 117.1,233.8 118.8,232.6 120.6,231.4 122.3,230.2 124.1,229.0 125.9,227.8 127.6,226.7 129.4,225.5 131.1,224.3 132.9,223.2 134.7,222.0 136.4,220.8 138.2,219.7 139.9,218.5 141.7,217.4 143.5,216.3 145.2,215.1 147.0,214.0 148.8,212.9 150.5,211.7 152.3,210.6 154.0,209.5 155.8,208.4 157.6,207.3 159.3,206.2 161.1,205.1 162.8,204.0 164.6,202.9 166.4,201.8 168.1,200.7 169.9,199.7 171.6,198.6 173.4,197.5 175.2,196.5 176.9,195.4 178.7,194.4 180.4,193.3 182.2,192.3 184.0,191.2 185.7,190.2 187.5,189.2 189.2,188.2 191.0,187.1 192.8,186.1 194.5,185.1 196.3,184.1 198.0,183.1 199.8,182.1 201.6,181.2 203.3,180.2 205.1,179.2 206.8,178.2 208.6,177.3 210.4,176.3 212.1,175.4 213.9,174.4 215.6,173.5 217.4,172.6 219.2,171.7 220.9,170.7 222.7,169.8 224.4,168.9 226.2,168.0 228.0,167.1 229.7,166.3 231.5,165.4 233.2,164.5 235.0,163.6 236.8,162.8 238.5,161.9 240.3,161.1 242.0,160.3 243.8,159.4 245.6,158.6 247.3,157.8 249.1,157.0 250.8,156.2 252.6,155.4 254.4,154.7 256.1,153.9 257.9,153.1 259.6,152.4 261.4,151.6 263.2,150.9 264.9,150.2 266.7,149.5 268.4,148.8 270.2,148.1 272.0,147.4 273.7,146.7 275.5,146.0 277.2,145.4 279.0,144.7 280.8,144.1 282.5,143.5 284.3,142.9 286.0,142.3 287.8,141.7 289.6,141.1 291.3,140.5 293.1,140.0 294.8,139.4 296.6,138.9 298.4,138.4 300.1,137.9 301.9,137.4 303.7,136.9 305.4,136.5 307.2,136.0 308.9,135.6 310.7,135.2 312.5,134.8 314.2,134.4 316.0,134.0 317.7,133.6 319.5,133.3 321.3,133.0 323.0,132.7 324.8,132.4 326.5,132.1 328.3,131.9 330.1,131.7 331.8,131.4 333.6,131.3 335.3,131.1 337.1,131.0 338.9,130.8 340.6,130.7 342.4,130.7 344.1,130.6 345.9,130.6 347.7,130.6 349.4,130.6 351.2,130.7 352.9,130.8 354.7,130.9 356.5,131.0 358.2,131.2 360.0,131.4 361.7,131.7 363.5,132.0 365.3,132.3 367.0,132.6 368.8,133.1 370.5,133.5 372.3,134.0 374.1,134.5 375.8,135.1 377.6,135.8 379.3,136.5 381.1,137.2 382.9,138.0 384.6,138.9 386.4,139.9 388.1,140.9 389.9,142.0 391.7,143.2 393.4,144.4 395.2,145.8 396.9,147.3 398.7,148.9 400.5,150.6 402.2,152.4 404.0,154.4 405.7,156.6 407.5,158.9 409.3,161.5 411.0,164.3 411.0,164.3 411.1,164.5 411.3,164.7 411.4,164.9 411.5,165.1 411.6,165.4 411.8,165.6 411.9,165.8 412.0,166.0 412.1,166.2 412.3,166.4 412.4,166.6 412.5,166.9 412.6,167.1 412.7,167.3 412.9,167.5 413.0,167.8 413.1,168.0 413.2,168.2 413.4,168.5 413.5,168.7 413.6,168.9 413.7,169.2 413.8,169.4 414.0,169.6 414.1,169.9 414.2,170.1 414.3,170.4 414.5,170.6 414.6,170.9 414.7,171.1 414.8,171.4 415.0,171.6 415.1,171.9 415.2,172.2 415.3,172.4 415.4,172.7 415.6,172.9 415.7,173.2 415.8,173.5 415.9,173.8 416.1,174.0 416.2,174.3 416.3,174.6 416.4,174.9 416.5,175.2 416.7,175.4 416.8,175.7 416.9,176.0 417.0,176.3 417.2,176.6 417.3,176.9 417.4,177.2 417.5,177.5 417.7,177.8 417.8,178.1 417.9,178.4 418.0,178.7 418.1,179.1 418.3,179.4 418.4,179.7 418.5,180.0 418.6,180.4 418.8,180.7 418.9,181.0 419.0,181.4 419.1,181.7 419.2,182.1 419.4,182.4 419.5,182.8 419.6,183.1 419.7,183.5 419.9,183.8 420.0,184.2 420.1,184.6 420.2,184.9 420.4,185.3 420.5,185.7 420.6,186.1 420.7,186.5 420.8,186.9 421.0,187.3 421.1,187.7 421.2,188.1 421.3,188.5 421.5,188.9 421.6,189.3 421.7,189.8 421.8,190.2 422.0,190.7 422.1,191.1 422.2,191.5 422.3,192.0 422.4,192.5 422.6,192.9 422.7,193.4 422.8,193.9 422.9,194.4 423.1,194.9 423.2,195.4 423.3,195.9 423.4,196.4 423.5,196.9 423.7,197.5 423.8,198.0 423.9,198.6 424.0,199.1 424.2,199.7 424.3,200.3 424.4,200.9 424.5,201.5 424.7,202.1 424.8,202.7 424.9,203.3 425.0,204.0 425.1,204.6 425.3,205.3 425.4,206.0 425.5,206.7 425.6,207.4 425.8,208.1 425.9,208.9 426.0,209.7 426.1,210.4 426.2,211.2 426.4,212.1 426.5,212.9 426.6,213.8 426.7,214.7 426.9,215.6 427.0,216.6 427.1,217.6 427.2,218.6 427.4,219.7 427.5,220.8 427.6,221.9 427.7,223.1 427.8,224.4 428.0,225.7 428.1,227.1 428.2,228.6 428.3,230.2 428.5,231.9 428.6,233.7 428.7,235.7 428.8,237.9 428.9,240.4 429.1,243.2 429.2,246.7 429.3,251.2" stroke="#6FB802"/>
<g stroke="none"><path d="M84.92 254.16H90.50M87.71 251.37V256.95" stroke="#4c7c10" stroke-width="0.6" fill="none"/><path d="M112.63 234.89H118.22M115.42 232.10V237.68" stroke="#4c7c10" stroke-width="0.6" fill="none"/><path d="M140.35 216.48H145.93M143.14 213.69V219.27" stroke="#4c7c10" stroke-width="0.6" fill="none"/><path d="M168.06 199.08H173.64M170.85 196.29V201.87" stroke="#4c7c10" stroke-width="0.6" fill="none"/><path d="M195.77 182.84H201.35M198.56 180.05V185.63" stroke="#4c7c10" stroke-width="0.6" fill="none"/><path d="M223.48 167.99H229.06M226.27 165.20V170.78" stroke="#4c7c10" stroke-width="0.6" fill="none"/><path d="M251.20 154.82H256.78M253.99 152.03V157.61" stroke="#4c7c10" stroke-width="0.6" fill="none"/><path d="M278.91 143.76H284.49M281.70 140.97V146.55" stroke="#4c7c10" stroke-width="0.6" fill="none"/><path d="M306.62 135.46H312.20M309.41 132.67V138.25" stroke="#4c7c10" stroke-width="0.6" fill="none"/><path d="M334.33 130.95H339.92M337.12 128.16V133.74" stroke="#4c7c10" stroke-width="0.6" fill="none"/><path d="M362.05 132.20H367.63M364.84 129.41V134.99" stroke="#4c7c10" stroke-width="0.6" fill="none"/><path d="M389.76 143.79H395.34M392.55 141.00V146.58" stroke="#4c7c10" stroke-width="0.6" fill="none"/><path d="M417.47 185.04H423.05M420.26 182.25V187.83" stroke="#4c7c10" stroke-width="0.6" fill="none"/></g>
<polyline points="60.7,273.5 62.5,272.0 64.3,270.4 66.0,268.8 67.8,267.3 69.5,265.7 71.3,264.2 73.1,262.7 74.8,261.1 76.6,259.6 78.3,258.1 80.1,256.6 81.9,255.1 83.6,253.6 85.4,252.2 87.1,250.7 88.9,249.2 90.7,247.8 92.4,246.4 94.2,244.9 95.9,243.5 97.7,242.1 99.5,240.7 101.2,239.3 103.0,237.9 104.7,236.5 106.5,235.1 108.3,233.7 110.0,232.4 111.8,231.0 113.5,229.7 115.3,228.4 117.1,227.0 118.8,225.7 120.6,224.4 122.3,223.1 124.1,221.9 125.9,220.6 127.6,219.3 129.4,218.0 131.1,216.8 132.9,215.6 134.7,214.3 136.4,213.1 138.2,211.9 139.9,210.7 141.7,209.5 143.5,208.3 145.2,207.1 147.0,206.0 148.8,204.8 150.5,203.7 152.3,202.5 154.0,201.4 155.8,200.3 157.6,199.2 159.3,198.1 161.1,197.0 162.8,196.0 164.6,194.9 166.4,193.8 168.1,192.8 169.9,191.8 171.6,190.8 173.4,189.7 175.2,188.8 176.9,187.8 178.7,186.8 180.4,185.8 182.2,184.9 184.0,183.9 185.7,183.0 187.5,182.1 189.2,181.2 191.0,180.3 192.8,179.4 194.5,178.5 196.3,177.7 198.0,176.8 199.8,176.0 201.6,175.1 203.3,174.3 205.1,173.5 206.8,172.7 208.6,172.0 210.4,171.2 212.1,170.5 213.9,169.7 215.6,169.0 217.4,168.3 219.2,167.6 220.9,166.9 222.7,166.2 224.4,165.6 226.2,164.9 228.0,164.3 229.7,163.7 231.5,163.1 233.2,162.5 235.0,161.9 236.8,161.4 238.5,160.8 240.3,160.3 242.0,159.8 243.8,159.3 245.6,158.8 247.3,158.3 249.1,157.8 250.8,157.4 252.6,157.0 254.4,156.6 256.1,156.2 257.9,155.8 259.6,155.4 261.4,155.1 263.2,154.8 264.9,154.5 266.7,154.2 268.4,153.9 270.2,153.6 272.0,153.4 273.7,153.2 275.5,153.0 277.2,152.8 279.0,152.6 280.8,152.4 282.5,152.3 284.3,152.2 286.0,152.1 287.8,152.0 289.6,152.0 291.3,151.9 293.1,151.9 294.8,151.9 296.6,151.9 298.4,152.0 300.1,152.1 301.9,152.2 303.7,152.3 305.4,152.4 307.2,152.6 308.9,152.7 310.7,152.9 312.5,153.2 314.2,153.4 316.0,153.7 317.7,154.0 319.5,154.3 321.3,154.6 323.0,155.0 324.8,155.4 326.5,155.8 328.3,156.3 330.1,156.8 331.8,157.3 333.6,157.8 335.3,158.4 337.1,159.0 338.9,159.6 340.6,160.3 342.4,161.0 344.1,161.7 345.9,162.4 347.7,163.2 349.4,164.0 351.2,164.9 352.9,165.8 354.7,166.7 356.5,167.7 358.2,168.7 360.0,169.7 361.7,170.8 363.5,171.9 365.3,173.1 367.0,174.3 368.8,175.6 370.5,176.9 372.3,178.2 374.1,179.6 375.8,181.0 377.6,182.5 379.3,184.1 381.1,185.7 382.9,187.4 384.6,189.1 386.4,190.9 388.1,192.7 389.9,194.6 391.7,196.6 393.4,198.7 395.2,200.8 396.9,203.1 398.7,205.4 400.5,207.8 402.2,210.3 404.0,212.8 405.7,215.6 407.5,218.4 409.3,221.3 411.0,224.4 411.0,224.4 411.1,224.6 411.3,224.9 411.4,225.1 411.5,225.3 411.6,225.5 411.8,225.7 411.9,226.0 412.0,226.2 412.1,226.4 412.3,226.7 412.4,226.9 412.5,227.1 412.6,227.3 412.7,227.6 412.9,227.8 413.0,228.0 413.1,228.3 413.2,228.5 413.4,228.7 413.5,229.0 413.6,229.2 413.7,229.4 413.8,229.7 414.0,229.9 414.1,230.2 414.2,230.4 414.3,230.6 414.5,230.9 414.6,231.1 414.7,231.4 414.8,231.6 415.0,231.9 415.1,232.1 415.2,232.4 415.3,232.6 415.4,232.9 415.6,233.1 415.7,233.4 415.8,233.6 415.9,233.9 416.1,234.1 416.2,234.4 416.3,234.6 416.4,234.9 416.5,235.2 416.7,235.4 416.8,235.7 416.9,235.9 417.0,236.2 417.2,236.5 417.3,236.7 417.4,237.0 417.5,237.3 417.7,237.5 417.8,237.8 417.9,238.1 418.0,238.4 418.1,238.6 418.3,238.9 418.4,239.2 418.5,239.5 418.6,239.7 418.8,240.0 418.9,240.3 419.0,240.6 419.1,240.9 419.2,241.1 419.4,241.4 419.5,241.7 419.6,242.0 419.7,242.3 419.9,242.6 420.0,242.9 420.1,243.2 420.2,243.5 420.4,243.8 420.5,244.1 420.6,244.4 420.7,244.7 420.8,245.0 421.0,245.3 421.1,245.6 421.2,245.9 421.3,246.2 421.5,246.5 421.6,246.8 421.7,247.1 421.8,247.5 422.0,247.8 422.1,248.1 422.2,248.4 422.3,248.7 422.4,249.1 422.6,249.4 422.7,249.7 422.8,250.1 422.9,250.4 423.1,250.7 423.2,251.1 423.3,251.4 423.4,251.7 423.5,252.1 423.7,252.4 423.8,252.8 423.9,253.1 424.0,253.5 424.2,253.8 424.3,254.2 424.4,254.6 424.5,254.9 424.7,255.3 424.8,255.7 424.9,256.0 425.0,256.4 425.1,256.8 425.3,257.2 425.4,257.6 425.5,257.9 425.6,258.3 425.8,258.7 425.9,259.1 426.0,259.5 426.1,259.9 426.2,260.3 426.4,260.8 426.5,261.2 426.6,261.6 426.7,262.0 426.9,262.5 427.0,262.9 427.1,263.3 427.2,263.8 427.4,264.3 427.5,264.7 427.6,265.2 427.7,265.7 427.8,266.1 428.0,266.6 428.1,267.1 428.2,267.6 428.3,268.2 428.5,268.7 428.6,269.2 428.7,269.8 428.8,270.4 428.9,271.0 429.1,271.6 429.2,272.2 429.3,272.9" stroke="#515151"/>
<g stroke="none"><path d="M84.77 247.28L90.66 253.17M84.77 253.17L90.66 247.28" stroke="#3FA0A0" stroke-width="0.8" fill="none"/><path d="M112.48 225.34L118.37 231.23M112.48 231.23L118.37 225.34" stroke="#3FA0A0" stroke-width="0.8" fill="none"/><path d="M140.19 205.59L146.08 211.48M140.19 211.48L146.08 205.59" stroke="#3FA0A0" stroke-width="0.8" fill="none"/><path d="M167.91 188.26L173.79 194.15M167.91 194.15L173.79 188.26" stroke="#3FA0A0" stroke-width="0.8" fill="none"/><path d="M195.62 173.61L201.51 179.50M195.62 179.50L201.51 173.61" stroke="#3FA0A0" stroke-width="0.8" fill="none"/><path d="M223.33 161.96L229.22 167.85M223.33 167.85L229.22 161.96" stroke="#3FA0A0" stroke-width="0.8" fill="none"/><path d="M251.04 153.72L256.93 159.61M251.04 159.61L256.93 153.72" stroke="#3FA0A0" stroke-width="0.8" fill="none"/><path d="M278.75 149.43L284.64 155.32M278.75 155.32L284.64 149.43" stroke="#3FA0A0" stroke-width="0.8" fill="none"/><path d="M306.47 149.84L312.36 155.73M306.47 155.73L312.36 149.84" stroke="#3FA0A0" stroke-width="0.8" fill="none"/><path d="M334.18 156.06L340.07 161.94M334.18 161.94L340.07 156.06" stroke="#3FA0A0" stroke-width="0.8" fill="none"/><path d="M361.89 169.87L367.78 175.76M361.89 175.76L367.78 169.87" stroke="#3FA0A0" stroke-width="0.8" fill="none"/><path d="M389.60 194.72L395.49 200.61M389.60 200.61L395.49 194.72" stroke="#3FA0A0" stroke-width="0.8" fill="none"/><path d="M417.32 240.60L423.21 246.49M417.32 246.49L423.21 240.60" stroke="#3FA0A0" stroke-width="0.8" fill="none"/></g>
<polyline points="60.7,273.3 62.5,271.1 64.3,268.9 66.0,266.8 67.8,264.7 69.5,262.6 71.3,260.5 73.1,258.5 74.8,256.5 76.6,254.4 78.3,252.5 80.1,250.5 81.9,248.5 83.6,246.6 85.4,244.7 87.1,242.8 88.9,241.0 90.7,239.1 92.4,237.3 94.2,235.5 95.9,233.7 97.7,232.0 99.5,230.2 101.2,228.5 103.0,226.8 104.7,225.2 106.5,223.5 108.3,221.9 110.0,220.3 111.8,218.7 113.5,217.1 115.3,215.6 117.1,214.0 118.8,212.5 120.6,211.0 122.3,209.6 124.1,208.1 125.9,206.7 127.6,205.3 129.4,203.9 131.1,202.6 132.9,201.2 134.7,199.9 136.4,198.6 138.2,197.3 139.9,196.1 141.7,194.8 143.5,193.6 145.2,192.4 147.0,191.3 148.8,190.1 150.5,189.0 152.3,187.9 154.0,186.8 155.8,185.7 157.6,184.7 159.3,183.6 161.1,182.6 162.8,181.6 164.6,180.7 166.4,179.7 168.1,178.8 169.9,177.9 171.6,177.0 173.4,176.2 175.2,175.3 176.9,174.5 178.7,173.7 180.4,173.0 182.2,172.2 184.0,171.5 185.7,170.8 187.5,170.1 189.2,169.4 191.0,168.8 192.8,168.1 194.5,167.5 196.3,166.9 198.0,166.4 199.8,165.8 201.6,165.3 203.3,164.8 205.1,164.3 206.8,163.9 208.6,163.4 210.4,163.0 212.1,162.6 213.9,162.2 215.6,161.9 217.4,161.5 219.2,161.2 220.9,160.9 222.7,160.6 224.4,160.4 226.2,160.2 228.0,160.0 229.7,159.8 231.5,159.6 233.2,159.4 235.0,159.3 236.8,159.2 238.5,159.1 240.3,159.1 242.0,159.0 243.8,159.0 245.6,159.0 247.3,159.0 249.1,159.1 250.8,159.1 252.6,159.2 254.4,159.3 256.1,159.4 257.9,159.6 259.6,159.7 261.4,159.9 263.2,160.1 264.9,160.4 266.7,160.6 268.4,160.9 270.2,161.2 272.0,161.5 273.7,161.8 275.5,162.2 277.2,162.6 279.0,163.0 280.8,163.4 282.5,163.8 284.3,164.3 286.0,164.8 287.8,165.3 289.6,165.8 291.3,166.3 293.1,166.9 294.8,167.5 296.6,168.1 298.4,168.7 300.1,169.4 301.9,170.0 303.7,170.7 305.4,171.4 307.2,172.2 308.9,172.9 310.7,173.7 312.5,174.5 314.2,175.3 316.0,176.1 317.7,177.0 319.5,177.9 321.3,178.8 323.0,179.7 324.8,180.6 326.5,181.6 328.3,182.6 330.1,183.6 331.8,184.6 333.6,185.6 335.3,186.7 337.1,187.8 338.9,188.9 340.6,190.0 342.4,191.2 344.1,192.3 345.9,193.5 347.7,194.7 349.4,196.0 351.2,197.2 352.9,198.5 354.7,199.8 356.5,201.1 358.2,202.5 360.0,203.8 361.7,205.2 363.5,206.6 365.3,208.0 367.0,209.5 368.8,210.9 370.5,212.4 372.3,213.9 374.1,215.4 375.8,217.0 377.6,218.5 379.3,220.1 381.1,221.7 382.9,223.4 384.6,225.0 386.4,226.7 388.1,228.4 389.9,230.1 391.7,231.8 393.4,233.6 395.2,235.4 396.9,237.2 398.7,239.0 400.5,240.8 402.2,242.7 404.0,244.6 405.7,246.5 407.5,248.4 409.3,250.3 411.0,252.3 411.0,252.3 411.1,252.4 411.3,252.6 411.4,252.7 411.5,252.9 411.6,253.0 411.8,253.1 411.9,253.3 412.0,253.4 412.1,253.6 412.3,253.7 412.4,253.8 412.5,254.0 412.6,254.1 412.7,254.3 412.9,254.4 413.0,254.5 413.1,254.7 413.2,254.8 413.4,254.9 413.5,255.1 413.6,255.2 413.7,255.4 413.8,255.5 414.0,255.6 414.1,255.8 414.2,255.9 414.3,256.1 414.5,256.2 414.6,256.4 414.7,256.5 414.8,256.6 415.0,256.8 415.1,256.9 415.2,257.1 415.3,257.2 415.4,257.3 415.6,257.5 415.7,257.6 415.8,257.8 415.9,257.9 416.1,258.0 416.2,258.2 416.3,258.3 416.4,258.5 416.5,258.6 416.7,258.8 416.8,258.9 416.9,259.0 417.0,259.2 417.2,259.3 417.3,259.5 417.4,259.6 417.5,259.8 417.7,259.9 417.8,260.0 417.9,260.2 418.0,260.3 418.1,260.5 418.3,260.6 418.4,260.8 418.5,260.9 418.6,261.0 418.8,261.2 418.9,261.3 419.0,261.5 419.1,261.6 419.2,261.8 419.4,261.9 419.5,262.1 419.6,262.2 419.7,262.4 419.9,262.5 420.0,262.6 420.1,262.8 420.2,262.9 420.4,263.1 420.5,263.2 420.6,263.4 420.7,263.5 420.8,263.7 421.0,263.8 421.1,264.0 421.2,264.1 421.3,264.2 421.5,264.4 421.6,264.5 421.7,264.7 421.8,264.8 422.0,265.0 422.1,265.1 422.2,265.3 422.3,265.4 422.4,265.6 422.6,265.7 422.7,265.9 422.8,266.0 422.9,266.2 423.1,266.3 423.2,266.5 423.3,266.6 423.4,266.7 423.5,266.9 423.7,267.0 423.8,267.2 423.9,267.3 424.0,267.5 424.2,267.6 424.3,267.8 424.4,267.9 424.5,268.1 424.7,268.2 424.8,268.4 424.9,268.5 425.0,268.7 425.1,268.8 425.3,269.0 425.4,269.1 425.5,269.3 425.6,269.4 425.8,269.6 425.9,269.7 426.0,269.9 426.1,270.0 426.2,270.2 426.4,270.3 426.5,270.5 426.6,270.6 426.7,270.8 426.9,270.9 427.0,271.1 427.1,271.2 427.2,271.4 427.4,271.5 427.5,271.7 427.6,271.8 427.7,272.0 427.8,272.1 428.0,272.3 428.1,272.4 428.2,272.6 428.3,272.7 428.5,272.9 428.6,273.1 428.7,273.2 428.8,273.4 428.9,273.5 429.1,273.7 429.2,273.8 429.3,274.0" stroke="#F14040"/>
<g stroke="none"><path d="M85.29 239.81L90.13 244.65M85.29 244.65L90.13 239.81M87.71 238.98V245.49M84.46 242.23H90.97" stroke="#2222B8" stroke-width="0.65" fill="none"/><path d="M113.01 213.03L117.84 217.87M113.01 217.87L117.84 213.03M115.42 212.19V218.70M112.17 215.45H118.68" stroke="#2222B8" stroke-width="0.65" fill="none"/><path d="M140.72 191.43L145.56 196.27M140.72 196.27L145.56 191.43M143.14 190.59V197.10M139.88 193.85H146.39" stroke="#2222B8" stroke-width="0.65" fill="none"/><path d="M168.43 175.01L173.27 179.85M168.43 179.85L173.27 175.01M170.85 174.18V180.69M167.59 177.43H174.10" stroke="#2222B8" stroke-width="0.65" fill="none"/><path d="M196.14 163.78L200.98 168.62M196.14 168.62L200.98 163.78M198.56 162.94V169.45M195.31 166.20H201.82" stroke="#2222B8" stroke-width="0.65" fill="none"/><path d="M223.86 157.73L228.69 162.57M223.86 162.57L228.69 157.73M226.27 156.90V163.41M223.02 160.15H229.53" stroke="#2222B8" stroke-width="0.65" fill="none"/><path d="M251.57 156.87L256.41 161.71M251.57 161.71L256.41 156.87M253.99 156.03V162.54M250.73 159.29H257.24" stroke="#2222B8" stroke-width="0.65" fill="none"/><path d="M279.28 161.19L284.12 166.03M279.28 166.03L284.12 161.19M281.70 160.35V166.86M278.44 163.61H284.95" stroke="#2222B8" stroke-width="0.65" fill="none"/><path d="M306.99 170.69L311.83 175.53M306.99 175.53L311.83 170.69M309.41 169.86V176.37M306.16 173.11H312.67" stroke="#2222B8" stroke-width="0.65" fill="none"/><path d="M334.71 185.38L339.54 190.22M334.71 190.22L339.54 185.38M337.12 184.54V191.05M333.87 187.80H340.38" stroke="#2222B8" stroke-width="0.65" fill="none"/><path d="M362.42 205.25L367.26 210.09M362.42 210.09L367.26 205.25M364.84 204.42V210.93M361.58 207.67H368.09" stroke="#2222B8" stroke-width="0.65" fill="none"/><path d="M390.13 230.31L394.97 235.15M390.13 235.15L394.97 230.31M392.55 229.47V235.98M389.29 232.73H395.80" stroke="#2222B8" stroke-width="0.65" fill="none"/><path d="M417.84 260.55L422.68 265.39M417.84 265.39L422.68 260.55M420.26 259.71V266.22M417.01 262.97H423.52" stroke="#2222B8" stroke-width="0.65" fill="none"/></g>
</g>
<path d="M60.0 14.6H429.5V274.2" stroke="#7c7c7c" stroke-width="1" fill="none"/>
<path d="M60.00 274.2V268.7M96.95 274.2V271.2M133.90 274.2V268.7M170.85 274.2V271.2M207.80 274.2V268.7M244.75 274.2V271.2M281.70 274.2V268.7M318.65 274.2V271.2M355.60 274.2V268.7M392.55 274.2V271.2M429.50 274.2V268.7M60.0 274.20H65.5M60.0 245.40H63.0M60.0 216.60H65.5M60.0 187.80H63.0M60.0 159.00H65.5M60.0 130.20H63.0M60.0 101.40H65.5M60.0 72.60H63.0M60.0 43.80H65.5" stroke="#000" stroke-width="1.2" fill="none"/>
<path d="M60.0 15.0V274.2H429.5" stroke="#000" stroke-width="1.5" fill="none" stroke-linecap="square"/>
<text x="59.8" y="295.7" font-size="18.2" text-anchor="middle">0.0</text>
<text x="133.7" y="295.7" font-size="18.2" text-anchor="middle">0.2</text>
<text x="207.6" y="295.7" font-size="18.2" text-anchor="middle">0.4</text>
<text x="281.5" y="295.7" font-size="18.2" text-anchor="middle">0.6</text>
<text x="355.4" y="295.7" font-size="18.2" text-anchor="middle">0.8</text>
<text x="429.3" y="295.7" font-size="18.2" text-anchor="middle">1.0</text>
<text x="52.8" y="280.2" font-size="18.2" text-anchor="end">0.0</text>
<text x="52.8" y="222.6" font-size="18.2" text-anchor="end">0.5</text>
<text x="52.8" y="165.0" font-size="18.2" text-anchor="end">1.0</text>
<text x="52.8" y="107.4" font-size="18.2" text-anchor="end">1.5</text>
<text x="52.8" y="49.8" font-size="18.2" text-anchor="end">2.0</text>
<text x="193.8" y="328.1" font-size="18.5">Conversion</text>
<text transform="translate(284 328.1) scale(1.22 1)" font-size="19.5" font-style="italic">α</text>
<g transform="translate(22.6 0) rotate(-90)" font-size="18.3">
<text x="-192" y="0">Z(</text><text transform="translate(-175 0) scale(1.15 1)" font-style="italic" font-size="19">α</text><text x="-165" y="0">)</text>
<text x="-154.3" y="0">/</text><text x="-141.2" y="0">Z(0.5)</text>
</g>
<path d="M450 15.2H482" stroke="#515151" stroke-width="1.6"/>
<text transform="translate(485.7 20.2) scale(0.925 1)" font-size="15">10 K/min</text>
<path d="M450 32.6H482" stroke="#F14040" stroke-width="1.6" stroke-dasharray="7.2 5.2"/>
<text transform="translate(485.7 37.6) scale(0.925 1)" font-size="15">20 K/min</text>
<path d="M450.6 50.0H478" stroke="#1A6FDF" stroke-width="1.6" stroke-dasharray="2 4.25"/>
<text transform="translate(485.7 55.0) scale(0.925 1)" font-size="15">30 K/min</text>
<path d="M450 67.5H482" stroke="#37AD6B" stroke-width="1.6" stroke-dasharray="6.6 3.4 2 3.4"/>
<text transform="translate(485.7 72.5) scale(0.925 1)" font-size="15">40 K/min</text>
<path d="M450 84.9H482" stroke="#000000" stroke-width="1.1"/>
<rect x="463.21" y="82.09" width="5.58" height="5.58" fill="#000000"/>
<text transform="translate(485.7 89.9) scale(0.925 1)" font-size="15">P2</text>
<path d="M450 102.3H482" stroke="#F14040" stroke-width="1.6"/>
<circle cx="466.00" cy="102.30" r="2.94" fill="#FF0000"/>
<text transform="translate(485.7 107.3) scale(0.925 1)" font-size="15">P3</text>
<path d="M450 119.7H482" stroke="#1A6FDF" stroke-width="1.6"/>
<polygon points="466.00,116.47 469.10,122.05 462.90,122.05" fill="#00FF00"/>
<text transform="translate(485.7 124.7) scale(0.925 1)" font-size="15">P4</text>
<path d="M450 137.1H482" stroke="#37AD6B" stroke-width="1.6"/>
<polygon points="466.00,140.40 469.10,134.82 462.90,134.82" fill="#0000FF"/>
<text transform="translate(485.7 142.1) scale(0.925 1)" font-size="15">A2</text>
<path d="M450 154.6H482" stroke="#B177DE" stroke-width="1.6"/>
<polygon points="466.00,151.15 469.41,154.56 466.00,157.97 462.59,154.56" fill="#00FFFF"/>
<text transform="translate(485.7 159.6) scale(0.925 1)" font-size="15">A3</text>
<path d="M450 172.0H482" stroke="#CC9900" stroke-width="1.6"/>
<polygon points="462.75,171.98 468.32,168.88 468.32,175.08" fill="#FF00FF"/>
<text transform="translate(485.7 177.0) scale(0.925 1)" font-size="15">A4</text>
<path d="M450 189.4H482" stroke="#00CBCC" stroke-width="1.6"/>
<polygon points="469.25,189.40 463.68,186.30 463.68,192.50" fill="#FFFF00"/>
<text transform="translate(485.7 194.4) scale(0.925 1)" font-size="15">R2</text>
<path d="M450 206.8H482" stroke="#7D4E4E" stroke-width="1.6"/>
<polygon points="469.25,206.82 467.63,209.64 464.37,209.64 462.75,206.82 464.37,204.00 467.63,204.00" fill="#808000"/>
<text transform="translate(485.7 211.8) scale(0.925 1)" font-size="15">R3</text>
<path d="M450 224.2H482" stroke="#8E8E00" stroke-width="1.6"/>
<polygon points="466.00,220.68 466.87,223.04 469.39,223.14 467.42,224.70 468.10,227.12 466.00,225.73 463.90,227.12 464.58,224.70 462.61,223.14 465.13,223.04" fill="#000080"/>
<text transform="translate(485.7 229.2) scale(0.925 1)" font-size="15">D1</text>
<path d="M450 241.7H482" stroke="#FB6501" stroke-width="1.6"/>
<polygon points="466.00,238.25 469.24,240.61 468.00,244.42 464.00,244.42 462.76,240.61" fill="#800080"/>
<text transform="translate(485.7 246.7) scale(0.925 1)" font-size="15">D2</text>
<path d="M450 259.1H482" stroke="#6699CC" stroke-width="1.6"/>
<circle cx="466.00" cy="259.08" r="2.94" fill="#800000"/><circle cx="465.20" cy="258.18" r="0.75" fill="#fff" opacity="0.85"/>
<text transform="translate(485.7 264.1) scale(0.925 1)" font-size="15">D3</text>
<path d="M450 276.5H482" stroke="#6FB802" stroke-width="1.6"/>
<path d="M463.21 276.50H468.79M466.00 273.71V279.29" stroke="#4c7c10" stroke-width="0.6" fill="none"/>
<text transform="translate(485.7 281.5) scale(0.925 1)" font-size="15">D4</text>
<path d="M450 293.9H482" stroke="#515151" stroke-width="1.6"/>
<path d="M463.06 290.98L468.94 296.87M463.06 296.87L468.94 290.98" stroke="#3FA0A0" stroke-width="0.8" fill="none"/>
<text transform="translate(485.7 298.9) scale(0.925 1)" font-size="15">F1</text>
<path d="M450 311.3H482" stroke="#F14040" stroke-width="1.6"/>
<path d="M463.58 308.92L468.42 313.76M463.58 313.76L468.42 308.92M466.00 308.09V314.60M462.75 311.34H469.25" stroke="#2222B8" stroke-width="0.65" fill="none"/>
<text transform="translate(485.7 316.3) scale(0.925 1)" font-size="15">F2</text>
</svg>
</body></html>
